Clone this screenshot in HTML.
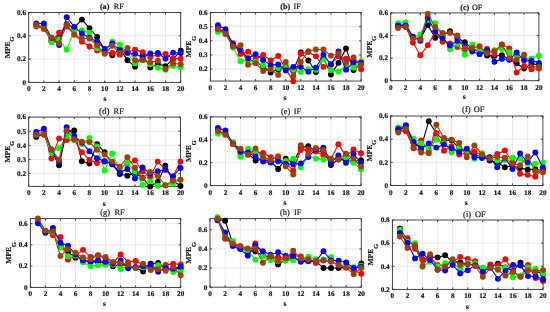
<!DOCTYPE html><html><head><meta charset="utf-8"><title>MPE</title><style>html,body{margin:0;padding:0;background:#fff}svg{display:block}text{text-rendering:geometricPrecision;stroke:#111;stroke-width:.18px;font-family:"Liberation Serif",serif;fill:#111}</style></head><body>
<svg width="550" height="312" viewBox="0 0 550 312">
<rect width="550" height="312" fill="#fff"/>
<g>
<path d="M43.9 12.5V82.4M59.1 12.5V82.4M74.3 12.5V82.4M89.5 12.5V82.4M104.7 12.5V82.4M119.9 12.5V82.4M135.1 12.5V82.4M150.3 12.5V82.4M165.5 12.5V82.4M28.7 59.1H180.7M28.7 35.8H180.7" stroke="#d8d8d8" stroke-width="0.55" fill="none"/>
<path d="M28.7 82.4v-2M28.7 12.5v2M43.9 82.4v-2M43.9 12.5v2M59.1 82.4v-2M59.1 12.5v2M74.3 82.4v-2M74.3 12.5v2M89.5 82.4v-2M89.5 12.5v2M104.7 82.4v-2M104.7 12.5v2M119.9 82.4v-2M119.9 12.5v2M135.1 82.4v-2M135.1 12.5v2M150.3 82.4v-2M150.3 12.5v2M165.5 82.4v-2M165.5 12.5v2M180.7 82.4v-2M180.7 12.5v2M28.7 82.4h2M180.7 82.4h-2M28.7 59.1h2M180.7 59.1h-2M28.7 35.8h2M180.7 35.8h-2M28.7 12.5h2M180.7 12.5h-2" stroke="#303030" stroke-width="0.9" fill="none"/>
<rect x="28.7" y="12.5" width="152" height="69.9" fill="none" stroke="#303030" stroke-width="0.9"/>
<polyline points="36.3,25.31 43.9,26.48 51.5,40.46 59.1,37.78 66.7,24.15 74.3,27.65 81.9,19.61 89.5,28.11 97.1,36.96 104.7,49.78 112.3,55.37 119.9,48.62 127.5,60.27 135.1,66.67 142.7,55.26 150.3,67.49 157.9,63.76 165.5,66.09 173.1,59.1 180.7,50.6" fill="none" stroke="#000000" stroke-width="1.1"/>
<g fill="#000000"><circle cx="36.3" cy="25.31" r="2.95"/><circle cx="43.9" cy="26.48" r="2.95"/><circle cx="51.5" cy="40.46" r="2.95"/><circle cx="59.1" cy="37.78" r="2.95"/><circle cx="66.7" cy="24.15" r="2.95"/><circle cx="74.3" cy="27.65" r="2.95"/><circle cx="81.9" cy="19.61" r="2.95"/><circle cx="89.5" cy="28.11" r="2.95"/><circle cx="97.1" cy="36.96" r="2.95"/><circle cx="104.7" cy="49.78" r="2.95"/><circle cx="112.3" cy="55.37" r="2.95"/><circle cx="119.9" cy="48.62" r="2.95"/><circle cx="127.5" cy="60.27" r="2.95"/><circle cx="135.1" cy="66.67" r="2.95"/><circle cx="142.7" cy="55.26" r="2.95"/><circle cx="150.3" cy="67.49" r="2.95"/><circle cx="157.9" cy="63.76" r="2.95"/><circle cx="165.5" cy="66.09" r="2.95"/><circle cx="173.1" cy="59.1" r="2.95"/><circle cx="180.7" cy="50.6" r="2.95"/></g>
<polyline points="36.3,26.48 43.9,28.81 51.5,41.63 59.1,32.6 66.7,26.48 74.3,34.64 81.9,41.63 89.5,46.52 97.1,50.6 104.7,52.11 112.3,53.04 119.9,54.67 127.5,52.11 135.1,49.78 142.7,52.11 150.3,57 157.9,54.44 165.5,53.86 173.1,58.63 180.7,58.63" fill="none" stroke="#ff0000" stroke-width="1.1"/>
<g fill="#ff0000"><circle cx="36.3" cy="26.48" r="2.95"/><circle cx="43.9" cy="28.81" r="2.95"/><circle cx="51.5" cy="41.63" r="2.95"/><circle cx="59.1" cy="32.6" r="2.95"/><circle cx="66.7" cy="26.48" r="2.95"/><circle cx="74.3" cy="34.64" r="2.95"/><circle cx="81.9" cy="41.63" r="2.95"/><circle cx="89.5" cy="46.52" r="2.95"/><circle cx="97.1" cy="50.6" r="2.95"/><circle cx="104.7" cy="52.11" r="2.95"/><circle cx="112.3" cy="53.04" r="2.95"/><circle cx="119.9" cy="54.67" r="2.95"/><circle cx="127.5" cy="52.11" r="2.95"/><circle cx="135.1" cy="49.78" r="2.95"/><circle cx="142.7" cy="52.11" r="2.95"/><circle cx="150.3" cy="57" r="2.95"/><circle cx="157.9" cy="54.44" r="2.95"/><circle cx="165.5" cy="53.86" r="2.95"/><circle cx="173.1" cy="58.63" r="2.95"/><circle cx="180.7" cy="58.63" r="2.95"/></g>
<polyline points="36.3,25.31 43.9,25.9 51.5,42.21 59.1,39.3 66.7,49.78 74.3,29.98 81.9,30.56 89.5,32.6 97.1,48.15 104.7,53.28 112.3,41.74 119.9,44.65 127.5,53.28 135.1,63.41 142.7,60.27 150.3,64.23 157.9,67.72 165.5,69.82 173.1,66.09 180.7,67.14" fill="none" stroke="#00ff00" stroke-width="1.1"/>
<g fill="#00ff00"><circle cx="36.3" cy="25.31" r="2.95"/><circle cx="43.9" cy="25.9" r="2.95"/><circle cx="51.5" cy="42.21" r="2.95"/><circle cx="59.1" cy="39.3" r="2.95"/><circle cx="66.7" cy="49.78" r="2.95"/><circle cx="74.3" cy="29.98" r="2.95"/><circle cx="81.9" cy="30.56" r="2.95"/><circle cx="89.5" cy="32.6" r="2.95"/><circle cx="97.1" cy="48.15" r="2.95"/><circle cx="104.7" cy="53.28" r="2.95"/><circle cx="112.3" cy="41.74" r="2.95"/><circle cx="119.9" cy="44.65" r="2.95"/><circle cx="127.5" cy="53.28" r="2.95"/><circle cx="135.1" cy="63.41" r="2.95"/><circle cx="142.7" cy="60.27" r="2.95"/><circle cx="150.3" cy="64.23" r="2.95"/><circle cx="157.9" cy="67.72" r="2.95"/><circle cx="165.5" cy="69.82" r="2.95"/><circle cx="173.1" cy="66.09" r="2.95"/><circle cx="180.7" cy="67.14" r="2.95"/></g>
<polyline points="36.3,23.57 43.9,23.57 51.5,37.78 59.1,45.12 66.7,17.16 74.3,26.83 81.9,33.47 89.5,37.78 97.1,41.63 104.7,48.96 112.3,43.37 119.9,50.95 127.5,52.69 135.1,53.86 142.7,57.7 150.3,53.51 157.9,53.04 165.5,58.63 173.1,52.69 180.7,53.04" fill="none" stroke="#0000ff" stroke-width="1.1"/>
<g fill="#0000ff"><circle cx="36.3" cy="23.57" r="2.95"/><circle cx="43.9" cy="23.57" r="2.95"/><circle cx="51.5" cy="37.78" r="2.95"/><circle cx="59.1" cy="45.12" r="2.95"/><circle cx="66.7" cy="17.16" r="2.95"/><circle cx="74.3" cy="26.83" r="2.95"/><circle cx="81.9" cy="33.47" r="2.95"/><circle cx="89.5" cy="37.78" r="2.95"/><circle cx="97.1" cy="41.63" r="2.95"/><circle cx="104.7" cy="48.96" r="2.95"/><circle cx="112.3" cy="43.37" r="2.95"/><circle cx="119.9" cy="50.95" r="2.95"/><circle cx="127.5" cy="52.69" r="2.95"/><circle cx="135.1" cy="53.86" r="2.95"/><circle cx="142.7" cy="57.7" r="2.95"/><circle cx="150.3" cy="53.51" r="2.95"/><circle cx="157.9" cy="53.04" r="2.95"/><circle cx="165.5" cy="58.63" r="2.95"/><circle cx="173.1" cy="52.69" r="2.95"/><circle cx="180.7" cy="53.04" r="2.95"/></g>
<polyline points="36.3,24.85 43.9,28.81 51.5,37.78 59.1,43.37 66.7,24.62 74.3,34.52 81.9,38.48 89.5,38.48 97.1,45.47 104.7,53.86 112.3,45.82 119.9,53.04 127.5,47.92 135.1,60.27 142.7,59.92 150.3,62.36 157.9,60.73 165.5,69 173.1,63.41 180.7,64.23" fill="none" stroke="#a23f06" stroke-width="1.1"/>
<g fill="#a23f06"><circle cx="36.3" cy="24.85" r="2.95"/><circle cx="43.9" cy="28.81" r="2.95"/><circle cx="51.5" cy="37.78" r="2.95"/><circle cx="59.1" cy="43.37" r="2.95"/><circle cx="66.7" cy="24.62" r="2.95"/><circle cx="74.3" cy="34.52" r="2.95"/><circle cx="81.9" cy="38.48" r="2.95"/><circle cx="89.5" cy="38.48" r="2.95"/><circle cx="97.1" cy="45.47" r="2.95"/><circle cx="104.7" cy="53.86" r="2.95"/><circle cx="112.3" cy="45.82" r="2.95"/><circle cx="119.9" cy="53.04" r="2.95"/><circle cx="127.5" cy="47.92" r="2.95"/><circle cx="135.1" cy="60.27" r="2.95"/><circle cx="142.7" cy="59.92" r="2.95"/><circle cx="150.3" cy="62.36" r="2.95"/><circle cx="157.9" cy="60.73" r="2.95"/><circle cx="165.5" cy="69" r="2.95"/><circle cx="173.1" cy="63.41" r="2.95"/><circle cx="180.7" cy="64.23" r="2.95"/></g>
<text x="28.7" y="91.4" font-size="7.2" font-weight="bold" text-anchor="middle">0</text>
<text x="43.9" y="91.4" font-size="7.2" font-weight="bold" text-anchor="middle">2</text>
<text x="59.1" y="91.4" font-size="7.2" font-weight="bold" text-anchor="middle">4</text>
<text x="74.3" y="91.4" font-size="7.2" font-weight="bold" text-anchor="middle">6</text>
<text x="89.5" y="91.4" font-size="7.2" font-weight="bold" text-anchor="middle">8</text>
<text x="104.7" y="91.4" font-size="7.2" font-weight="bold" text-anchor="middle">10</text>
<text x="119.9" y="91.4" font-size="7.2" font-weight="bold" text-anchor="middle">12</text>
<text x="135.1" y="91.4" font-size="7.2" font-weight="bold" text-anchor="middle">14</text>
<text x="150.3" y="91.4" font-size="7.2" font-weight="bold" text-anchor="middle">16</text>
<text x="165.5" y="91.4" font-size="7.2" font-weight="bold" text-anchor="middle">18</text>
<text x="180.7" y="91.4" font-size="7.2" font-weight="bold" text-anchor="middle">20</text>
<text x="26" y="84.7" font-size="7.2" font-weight="bold" text-anchor="end">0</text>
<text x="26" y="61.4" font-size="7.2" font-weight="bold" text-anchor="end">0.2</text>
<text x="26" y="38.1" font-size="7.2" font-weight="bold" text-anchor="end">0.4</text>
<text x="26" y="14.8" font-size="7.2" font-weight="bold" text-anchor="end">0.6</text>
<text x="104.9" y="101.1" font-size="7.6" font-weight="bold" text-anchor="middle">s</text>
<text transform="translate(9.7 58.3) rotate(-90)" font-size="7.6" font-weight="bold">MPE<tspan font-size="6.1" dx="0" dy="4.6">G</tspan></text>
<text x="99.9" y="9.3" font-size="8.1" font-weight="bold">(a)</text>
<text x="113.8" y="9.3" font-size="8.1">RF</text>
</g>
<g>
<path d="M225.47 12.5V81.05M240.54 12.5V81.05M255.61 12.5V81.05M270.68 12.5V81.05M285.75 12.5V81.05M300.82 12.5V81.05M315.89 12.5V81.05M330.96 12.5V81.05M346.03 12.5V81.05M210.4 69.1H361.1M210.4 54.95H361.1M210.4 40.8H361.1M210.4 26.65H361.1" stroke="#d8d8d8" stroke-width="0.55" fill="none"/>
<path d="M210.4 81.05v-2M210.4 12.5v2M225.47 81.05v-2M225.47 12.5v2M240.54 81.05v-2M240.54 12.5v2M255.61 81.05v-2M255.61 12.5v2M270.68 81.05v-2M270.68 12.5v2M285.75 81.05v-2M285.75 12.5v2M300.82 81.05v-2M300.82 12.5v2M315.89 81.05v-2M315.89 12.5v2M330.96 81.05v-2M330.96 12.5v2M346.03 81.05v-2M346.03 12.5v2M361.1 81.05v-2M361.1 12.5v2M210.4 69.1h2M361.1 69.1h-2M210.4 54.95h2M361.1 54.95h-2M210.4 40.8h2M361.1 40.8h-2M210.4 26.65h2M361.1 26.65h-2M210.4 12.5h2M361.1 12.5h-2" stroke="#303030" stroke-width="0.9" fill="none"/>
<rect x="210.4" y="12.5" width="150.7" height="68.55" fill="none" stroke="#303030" stroke-width="0.9"/>
<polyline points="217.94,29.48 225.47,32.31 233,45.05 240.54,50.7 248.08,59.19 255.61,62.02 263.14,66.27 270.68,72.5 278.22,69.24 285.75,67.69 293.29,70.52 300.82,52.4 308.36,60.47 315.89,71.93 323.43,57.78 330.96,74.48 338.5,62.87 346.03,48.44 353.57,70.09 361.1,63.44" fill="none" stroke="#000000" stroke-width="1.1"/>
<g fill="#000000"><circle cx="217.94" cy="29.48" r="2.95"/><circle cx="225.47" cy="32.31" r="2.95"/><circle cx="233" cy="45.05" r="2.95"/><circle cx="240.54" cy="50.7" r="2.95"/><circle cx="248.08" cy="59.19" r="2.95"/><circle cx="255.61" cy="62.02" r="2.95"/><circle cx="263.14" cy="66.27" r="2.95"/><circle cx="270.68" cy="72.5" r="2.95"/><circle cx="278.22" cy="69.24" r="2.95"/><circle cx="285.75" cy="67.69" r="2.95"/><circle cx="293.29" cy="70.52" r="2.95"/><circle cx="300.82" cy="52.4" r="2.95"/><circle cx="308.36" cy="60.47" r="2.95"/><circle cx="315.89" cy="71.93" r="2.95"/><circle cx="323.43" cy="57.78" r="2.95"/><circle cx="330.96" cy="74.48" r="2.95"/><circle cx="338.5" cy="62.87" r="2.95"/><circle cx="346.03" cy="48.44" r="2.95"/><circle cx="353.57" cy="70.09" r="2.95"/><circle cx="361.1" cy="63.44" r="2.95"/></g>
<polyline points="217.94,28.06 225.47,32.31 233,43.21 240.54,54.1 248.08,51.7 255.61,58.91 263.14,54.95 270.68,60.33 278.22,55.94 285.75,69.1 293.29,81.27 300.82,53.68 308.36,52.12 315.89,56.36 323.43,66.84 330.96,64.15 338.5,56.36 346.03,58.77 353.57,63.44 361.1,69.24" fill="none" stroke="#ff0000" stroke-width="1.1"/>
<g fill="#ff0000"><circle cx="217.94" cy="28.06" r="2.95"/><circle cx="225.47" cy="32.31" r="2.95"/><circle cx="233" cy="43.21" r="2.95"/><circle cx="240.54" cy="54.1" r="2.95"/><circle cx="248.08" cy="51.7" r="2.95"/><circle cx="255.61" cy="58.91" r="2.95"/><circle cx="263.14" cy="54.95" r="2.95"/><circle cx="270.68" cy="60.33" r="2.95"/><circle cx="278.22" cy="55.94" r="2.95"/><circle cx="285.75" cy="69.1" r="2.95"/><circle cx="293.29" cy="81.27" r="2.95"/><circle cx="300.82" cy="53.68" r="2.95"/><circle cx="308.36" cy="52.12" r="2.95"/><circle cx="315.89" cy="56.36" r="2.95"/><circle cx="323.43" cy="66.84" r="2.95"/><circle cx="330.96" cy="64.15" r="2.95"/><circle cx="338.5" cy="56.36" r="2.95"/><circle cx="346.03" cy="58.77" r="2.95"/><circle cx="353.57" cy="63.44" r="2.95"/><circle cx="361.1" cy="69.24" r="2.95"/></g>
<polyline points="217.94,31.89 225.47,32.31 233,47.59 240.54,61.32 248.08,60.61 255.61,62.02 263.14,65.28 270.68,67.69 278.22,68.11 285.75,65.14 293.29,69.81 300.82,71.93 308.36,69.24 315.89,69.81 323.43,59.62 330.96,70.09 338.5,71.65 346.03,65.56 353.57,67.69 361.1,61.18" fill="none" stroke="#00ff00" stroke-width="1.1"/>
<g fill="#00ff00"><circle cx="217.94" cy="31.89" r="2.95"/><circle cx="225.47" cy="32.31" r="2.95"/><circle cx="233" cy="47.59" r="2.95"/><circle cx="240.54" cy="61.32" r="2.95"/><circle cx="248.08" cy="60.61" r="2.95"/><circle cx="255.61" cy="62.02" r="2.95"/><circle cx="263.14" cy="65.28" r="2.95"/><circle cx="270.68" cy="67.69" r="2.95"/><circle cx="278.22" cy="68.11" r="2.95"/><circle cx="285.75" cy="65.14" r="2.95"/><circle cx="293.29" cy="69.81" r="2.95"/><circle cx="300.82" cy="71.93" r="2.95"/><circle cx="308.36" cy="69.24" r="2.95"/><circle cx="315.89" cy="69.81" r="2.95"/><circle cx="323.43" cy="59.62" r="2.95"/><circle cx="330.96" cy="70.09" r="2.95"/><circle cx="338.5" cy="71.65" r="2.95"/><circle cx="346.03" cy="65.56" r="2.95"/><circle cx="353.57" cy="67.69" r="2.95"/><circle cx="361.1" cy="61.18" r="2.95"/></g>
<polyline points="217.94,25.23 225.47,29.2 233,44.48 240.54,50 248.08,58.2 255.61,54.1 263.14,59.9 270.68,65.14 278.22,64.43 285.75,70.52 293.29,66.84 300.82,66.84 308.36,71.65 315.89,67.69 323.43,54.67 330.96,64.43 338.5,51.55 346.03,69.67 353.57,62.02 361.1,62.73" fill="none" stroke="#0000ff" stroke-width="1.1"/>
<g fill="#0000ff"><circle cx="217.94" cy="25.23" r="2.95"/><circle cx="225.47" cy="29.2" r="2.95"/><circle cx="233" cy="44.48" r="2.95"/><circle cx="240.54" cy="50" r="2.95"/><circle cx="248.08" cy="58.2" r="2.95"/><circle cx="255.61" cy="54.1" r="2.95"/><circle cx="263.14" cy="59.9" r="2.95"/><circle cx="270.68" cy="65.14" r="2.95"/><circle cx="278.22" cy="64.43" r="2.95"/><circle cx="285.75" cy="70.52" r="2.95"/><circle cx="293.29" cy="66.84" r="2.95"/><circle cx="300.82" cy="66.84" r="2.95"/><circle cx="308.36" cy="71.65" r="2.95"/><circle cx="315.89" cy="67.69" r="2.95"/><circle cx="323.43" cy="54.67" r="2.95"/><circle cx="330.96" cy="64.43" r="2.95"/><circle cx="338.5" cy="51.55" r="2.95"/><circle cx="346.03" cy="69.67" r="2.95"/><circle cx="353.57" cy="62.02" r="2.95"/><circle cx="361.1" cy="62.73" r="2.95"/></g>
<polyline points="217.94,29.2 225.47,34.01 233,46.46 240.54,45.19 248.08,64.71 255.61,63.16 263.14,71.08 270.68,69.52 278.22,74.9 285.75,62.02 293.29,76.17 300.82,61.74 308.36,51.13 315.89,49.57 323.43,49.57 330.96,55.66 338.5,53.53 346.03,62.87 353.57,57.5 361.1,64.85" fill="none" stroke="#a23f06" stroke-width="1.1"/>
<g fill="#a23f06"><circle cx="217.94" cy="29.2" r="2.95"/><circle cx="225.47" cy="34.01" r="2.95"/><circle cx="233" cy="46.46" r="2.95"/><circle cx="240.54" cy="45.19" r="2.95"/><circle cx="248.08" cy="64.71" r="2.95"/><circle cx="255.61" cy="63.16" r="2.95"/><circle cx="263.14" cy="71.08" r="2.95"/><circle cx="270.68" cy="69.52" r="2.95"/><circle cx="278.22" cy="74.9" r="2.95"/><circle cx="285.75" cy="62.02" r="2.95"/><circle cx="293.29" cy="76.17" r="2.95"/><circle cx="300.82" cy="61.74" r="2.95"/><circle cx="308.36" cy="51.13" r="2.95"/><circle cx="315.89" cy="49.57" r="2.95"/><circle cx="323.43" cy="49.57" r="2.95"/><circle cx="330.96" cy="55.66" r="2.95"/><circle cx="338.5" cy="53.53" r="2.95"/><circle cx="346.03" cy="62.87" r="2.95"/><circle cx="353.57" cy="57.5" r="2.95"/><circle cx="361.1" cy="64.85" r="2.95"/></g>
<text x="210.4" y="90.05" font-size="7.2" font-weight="bold" text-anchor="middle">0</text>
<text x="225.47" y="90.05" font-size="7.2" font-weight="bold" text-anchor="middle">2</text>
<text x="240.54" y="90.05" font-size="7.2" font-weight="bold" text-anchor="middle">4</text>
<text x="255.61" y="90.05" font-size="7.2" font-weight="bold" text-anchor="middle">6</text>
<text x="270.68" y="90.05" font-size="7.2" font-weight="bold" text-anchor="middle">8</text>
<text x="285.75" y="90.05" font-size="7.2" font-weight="bold" text-anchor="middle">10</text>
<text x="300.82" y="90.05" font-size="7.2" font-weight="bold" text-anchor="middle">12</text>
<text x="315.89" y="90.05" font-size="7.2" font-weight="bold" text-anchor="middle">14</text>
<text x="330.96" y="90.05" font-size="7.2" font-weight="bold" text-anchor="middle">16</text>
<text x="346.03" y="90.05" font-size="7.2" font-weight="bold" text-anchor="middle">18</text>
<text x="361.1" y="90.05" font-size="7.2" font-weight="bold" text-anchor="middle">20</text>
<text x="207.7" y="71.4" font-size="7.2" font-weight="bold" text-anchor="end">0.2</text>
<text x="207.7" y="57.25" font-size="7.2" font-weight="bold" text-anchor="end">0.3</text>
<text x="207.7" y="43.1" font-size="7.2" font-weight="bold" text-anchor="end">0.4</text>
<text x="207.7" y="28.95" font-size="7.2" font-weight="bold" text-anchor="end">0.5</text>
<text x="207.7" y="14.8" font-size="7.2" font-weight="bold" text-anchor="end">0.6</text>
<text x="285.1" y="99.5" font-size="7.6" font-weight="bold" text-anchor="middle">s</text>
<text transform="translate(191.4 57.62) rotate(-90)" font-size="7.6" font-weight="bold">MPE<tspan font-size="6.1" dx="0" dy="4.6">G</tspan></text>
<text x="280.2" y="9.3" font-size="8.1" font-weight="bold">(b)</text>
<text x="293.6" y="9.3" font-size="8.1">IF</text>
</g>
<g>
<path d="M405.52 12.9V80.7M420.34 12.9V80.7M435.16 12.9V80.7M449.98 12.9V80.7M464.8 12.9V80.7M479.62 12.9V80.7M494.44 12.9V80.7M509.26 12.9V80.7M524.08 12.9V80.7M390.7 58.1H538.9M390.7 35.5H538.9" stroke="#d8d8d8" stroke-width="0.55" fill="none"/>
<path d="M390.7 80.7v-2M390.7 12.9v2M405.52 80.7v-2M405.52 12.9v2M420.34 80.7v-2M420.34 12.9v2M435.16 80.7v-2M435.16 12.9v2M449.98 80.7v-2M449.98 12.9v2M464.8 80.7v-2M464.8 12.9v2M479.62 80.7v-2M479.62 12.9v2M494.44 80.7v-2M494.44 12.9v2M509.26 80.7v-2M509.26 12.9v2M524.08 80.7v-2M524.08 12.9v2M538.9 80.7v-2M538.9 12.9v2M390.7 80.7h2M538.9 80.7h-2M390.7 58.1h2M538.9 58.1h-2M390.7 35.5h2M538.9 35.5h-2M390.7 12.9h2M538.9 12.9h-2" stroke="#303030" stroke-width="0.9" fill="none"/>
<rect x="390.7" y="12.9" width="148.2" height="67.8" fill="none" stroke="#303030" stroke-width="0.9"/>
<polyline points="398.11,25.33 405.52,25.33 412.93,37.76 420.34,38.89 427.75,24.88 435.16,37.76 442.57,35.5 449.98,31.21 457.39,37.76 464.8,42.17 472.21,49.06 479.62,51.32 487.03,55.61 494.44,55.84 501.85,55.28 509.26,59.23 516.67,63.3 524.08,68.5 531.49,63.75 538.9,64.88" fill="none" stroke="#000000" stroke-width="1.1"/>
<g fill="#000000"><circle cx="398.11" cy="25.33" r="2.95"/><circle cx="405.52" cy="25.33" r="2.95"/><circle cx="412.93" cy="37.76" r="2.95"/><circle cx="420.34" cy="38.89" r="2.95"/><circle cx="427.75" cy="24.88" r="2.95"/><circle cx="435.16" cy="37.76" r="2.95"/><circle cx="442.57" cy="35.5" r="2.95"/><circle cx="449.98" cy="31.21" r="2.95"/><circle cx="457.39" cy="37.76" r="2.95"/><circle cx="464.8" cy="42.17" r="2.95"/><circle cx="472.21" cy="49.06" r="2.95"/><circle cx="479.62" cy="51.32" r="2.95"/><circle cx="487.03" cy="55.61" r="2.95"/><circle cx="494.44" cy="55.84" r="2.95"/><circle cx="501.85" cy="55.28" r="2.95"/><circle cx="509.26" cy="59.23" r="2.95"/><circle cx="516.67" cy="63.3" r="2.95"/><circle cx="524.08" cy="68.5" r="2.95"/><circle cx="531.49" cy="63.75" r="2.95"/><circle cx="538.9" cy="64.88" r="2.95"/></g>
<polyline points="398.11,27.03 405.52,26.46 412.93,42.51 420.34,55.28 427.75,45.22 435.16,32.11 442.57,41.83 449.98,43.41 457.39,46.91 464.8,50.19 472.21,50.19 479.62,50.3 487.03,48.95 494.44,54.03 501.85,44.77 509.26,48.38 516.67,72.45 524.08,66.01 531.49,69.29 538.9,68.5" fill="none" stroke="#ff0000" stroke-width="1.1"/>
<g fill="#ff0000"><circle cx="398.11" cy="27.03" r="2.95"/><circle cx="405.52" cy="26.46" r="2.95"/><circle cx="412.93" cy="42.51" r="2.95"/><circle cx="420.34" cy="55.28" r="2.95"/><circle cx="427.75" cy="45.22" r="2.95"/><circle cx="435.16" cy="32.11" r="2.95"/><circle cx="442.57" cy="41.83" r="2.95"/><circle cx="449.98" cy="43.41" r="2.95"/><circle cx="457.39" cy="46.91" r="2.95"/><circle cx="464.8" cy="50.19" r="2.95"/><circle cx="472.21" cy="50.19" r="2.95"/><circle cx="479.62" cy="50.3" r="2.95"/><circle cx="487.03" cy="48.95" r="2.95"/><circle cx="494.44" cy="54.03" r="2.95"/><circle cx="501.85" cy="44.77" r="2.95"/><circle cx="509.26" cy="48.38" r="2.95"/><circle cx="516.67" cy="72.45" r="2.95"/><circle cx="524.08" cy="66.01" r="2.95"/><circle cx="531.49" cy="69.29" r="2.95"/><circle cx="538.9" cy="68.5" r="2.95"/></g>
<polyline points="398.11,23.18 405.52,22.39 412.93,37.76 420.34,34.37 427.75,19.68 435.16,23.18 442.57,36.63 449.98,49.29 457.39,43.75 464.8,54.82 472.21,44.54 479.62,50.19 487.03,52.45 494.44,50.19 501.85,48.95 509.26,52.11 516.67,56.41 524.08,58.1 531.49,58.55 538.9,55.61" fill="none" stroke="#00ff00" stroke-width="1.1"/>
<g fill="#00ff00"><circle cx="398.11" cy="23.18" r="2.95"/><circle cx="405.52" cy="22.39" r="2.95"/><circle cx="412.93" cy="37.76" r="2.95"/><circle cx="420.34" cy="34.37" r="2.95"/><circle cx="427.75" cy="19.68" r="2.95"/><circle cx="435.16" cy="23.18" r="2.95"/><circle cx="442.57" cy="36.63" r="2.95"/><circle cx="449.98" cy="49.29" r="2.95"/><circle cx="457.39" cy="43.75" r="2.95"/><circle cx="464.8" cy="54.82" r="2.95"/><circle cx="472.21" cy="44.54" r="2.95"/><circle cx="479.62" cy="50.19" r="2.95"/><circle cx="487.03" cy="52.45" r="2.95"/><circle cx="494.44" cy="50.19" r="2.95"/><circle cx="501.85" cy="48.95" r="2.95"/><circle cx="509.26" cy="52.11" r="2.95"/><circle cx="516.67" cy="56.41" r="2.95"/><circle cx="524.08" cy="58.1" r="2.95"/><circle cx="531.49" cy="58.55" r="2.95"/><circle cx="538.9" cy="55.61" r="2.95"/></g>
<polyline points="398.11,25.33 405.52,25.33 412.93,36.63 420.34,40.81 427.75,17.65 435.16,31.43 442.57,38.33 449.98,45.39 457.39,40.81 464.8,45.67 472.21,51.55 479.62,54.15 487.03,50.19 494.44,61.72 501.85,58.89 509.26,59.68 516.67,52.45 524.08,60.13 531.49,60.81 538.9,62.85" fill="none" stroke="#0000ff" stroke-width="1.1"/>
<g fill="#0000ff"><circle cx="398.11" cy="25.33" r="2.95"/><circle cx="405.52" cy="25.33" r="2.95"/><circle cx="412.93" cy="36.63" r="2.95"/><circle cx="420.34" cy="40.81" r="2.95"/><circle cx="427.75" cy="17.65" r="2.95"/><circle cx="435.16" cy="31.43" r="2.95"/><circle cx="442.57" cy="38.33" r="2.95"/><circle cx="449.98" cy="45.39" r="2.95"/><circle cx="457.39" cy="40.81" r="2.95"/><circle cx="464.8" cy="45.67" r="2.95"/><circle cx="472.21" cy="51.55" r="2.95"/><circle cx="479.62" cy="54.15" r="2.95"/><circle cx="487.03" cy="50.19" r="2.95"/><circle cx="494.44" cy="61.72" r="2.95"/><circle cx="501.85" cy="58.89" r="2.95"/><circle cx="509.26" cy="59.68" r="2.95"/><circle cx="516.67" cy="52.45" r="2.95"/><circle cx="524.08" cy="60.13" r="2.95"/><circle cx="531.49" cy="60.81" r="2.95"/><circle cx="538.9" cy="62.85" r="2.95"/></g>
<polyline points="398.11,28.04 405.52,26.91 412.93,38.44 420.34,39.23 427.75,13.58 435.16,26.91 442.57,33.01 449.98,32.9 457.39,35.5 464.8,48.16 472.21,47.93 479.62,46.24 487.03,53.24 494.44,51.21 501.85,44.43 509.26,58.1 516.67,59.68 524.08,54.82 531.49,67.14 538.9,66.91" fill="none" stroke="#a23f06" stroke-width="1.1"/>
<g fill="#a23f06"><circle cx="398.11" cy="28.04" r="2.95"/><circle cx="405.52" cy="26.91" r="2.95"/><circle cx="412.93" cy="38.44" r="2.95"/><circle cx="420.34" cy="39.23" r="2.95"/><circle cx="427.75" cy="13.58" r="2.95"/><circle cx="435.16" cy="26.91" r="2.95"/><circle cx="442.57" cy="33.01" r="2.95"/><circle cx="449.98" cy="32.9" r="2.95"/><circle cx="457.39" cy="35.5" r="2.95"/><circle cx="464.8" cy="48.16" r="2.95"/><circle cx="472.21" cy="47.93" r="2.95"/><circle cx="479.62" cy="46.24" r="2.95"/><circle cx="487.03" cy="53.24" r="2.95"/><circle cx="494.44" cy="51.21" r="2.95"/><circle cx="501.85" cy="44.43" r="2.95"/><circle cx="509.26" cy="58.1" r="2.95"/><circle cx="516.67" cy="59.68" r="2.95"/><circle cx="524.08" cy="54.82" r="2.95"/><circle cx="531.49" cy="67.14" r="2.95"/><circle cx="538.9" cy="66.91" r="2.95"/></g>
<text x="390.7" y="89.7" font-size="7.2" font-weight="bold" text-anchor="middle">0</text>
<text x="405.52" y="89.7" font-size="7.2" font-weight="bold" text-anchor="middle">2</text>
<text x="420.34" y="89.7" font-size="7.2" font-weight="bold" text-anchor="middle">4</text>
<text x="435.16" y="89.7" font-size="7.2" font-weight="bold" text-anchor="middle">6</text>
<text x="449.98" y="89.7" font-size="7.2" font-weight="bold" text-anchor="middle">8</text>
<text x="464.8" y="89.7" font-size="7.2" font-weight="bold" text-anchor="middle">10</text>
<text x="479.62" y="89.7" font-size="7.2" font-weight="bold" text-anchor="middle">12</text>
<text x="494.44" y="89.7" font-size="7.2" font-weight="bold" text-anchor="middle">14</text>
<text x="509.26" y="89.7" font-size="7.2" font-weight="bold" text-anchor="middle">16</text>
<text x="524.08" y="89.7" font-size="7.2" font-weight="bold" text-anchor="middle">18</text>
<text x="538.9" y="89.7" font-size="7.2" font-weight="bold" text-anchor="middle">20</text>
<text x="388" y="83" font-size="7.2" font-weight="bold" text-anchor="end">0</text>
<text x="388" y="60.4" font-size="7.2" font-weight="bold" text-anchor="end">0.2</text>
<text x="388" y="37.8" font-size="7.2" font-weight="bold" text-anchor="end">0.4</text>
<text x="388" y="15.2" font-size="7.2" font-weight="bold" text-anchor="end">0.6</text>
<text x="464.2" y="98.9" font-size="7.6" font-weight="bold" text-anchor="middle">s</text>
<text transform="translate(371.7 57.65) rotate(-90)" font-size="7.6" font-weight="bold">MPE<tspan font-size="6.1" dx="0" dy="4.6">G</tspan></text>
<text x="460.2" y="9.7" font-size="8.1" font-weight="bold">(c)</text>
<text x="472" y="9.7" font-size="8.1">OF</text>
</g>
<g>
<path d="M43.88 117.1V186.4M59.06 117.1V186.4M74.24 117.1V186.4M89.42 117.1V186.4M104.6 117.1V186.4M119.78 117.1V186.4M134.96 117.1V186.4M150.14 117.1V186.4M165.32 117.1V186.4M28.7 173.6H180.5M28.7 159.47H180.5M28.7 145.35H180.5M28.7 131.22H180.5" stroke="#d8d8d8" stroke-width="0.55" fill="none"/>
<path d="M28.7 186.4v-2M28.7 117.1v2M43.88 186.4v-2M43.88 117.1v2M59.06 186.4v-2M59.06 117.1v2M74.24 186.4v-2M74.24 117.1v2M89.42 186.4v-2M89.42 117.1v2M104.6 186.4v-2M104.6 117.1v2M119.78 186.4v-2M119.78 117.1v2M134.96 186.4v-2M134.96 117.1v2M150.14 186.4v-2M150.14 117.1v2M165.32 186.4v-2M165.32 117.1v2M180.5 186.4v-2M180.5 117.1v2M28.7 173.6h2M180.5 173.6h-2M28.7 159.47h2M180.5 159.47h-2M28.7 145.35h2M180.5 145.35h-2M28.7 131.22h2M180.5 131.22h-2M28.7 117.1h2M180.5 117.1h-2" stroke="#303030" stroke-width="0.9" fill="none"/>
<rect x="28.7" y="117.1" width="151.8" height="69.3" fill="none" stroke="#303030" stroke-width="0.9"/>
<polyline points="36.29,136.88 43.88,134.05 51.47,151 59.06,165.27 66.65,131.22 74.24,130.38 81.83,161.31 89.42,163.57 97.01,144.08 104.6,152.27 112.19,164.42 119.78,174.02 127.37,175.72 134.96,172.75 142.55,177.84 150.14,186.59 157.73,181.93 165.32,165.69 172.91,180.66 180.5,186.03" fill="none" stroke="#000000" stroke-width="1.1"/>
<g fill="#000000"><circle cx="36.29" cy="136.88" r="2.95"/><circle cx="43.88" cy="134.05" r="2.95"/><circle cx="51.47" cy="151" r="2.95"/><circle cx="59.06" cy="165.27" r="2.95"/><circle cx="66.65" cy="131.22" r="2.95"/><circle cx="74.24" cy="130.38" r="2.95"/><circle cx="81.83" cy="161.31" r="2.95"/><circle cx="89.42" cy="163.57" r="2.95"/><circle cx="97.01" cy="144.08" r="2.95"/><circle cx="104.6" cy="152.27" r="2.95"/><circle cx="112.19" cy="164.42" r="2.95"/><circle cx="119.78" cy="174.02" r="2.95"/><circle cx="127.37" cy="175.72" r="2.95"/><circle cx="134.96" cy="172.75" r="2.95"/><circle cx="142.55" cy="177.84" r="2.95"/><circle cx="150.14" cy="186.59" r="2.95"/><circle cx="157.73" cy="181.93" r="2.95"/><circle cx="165.32" cy="165.69" r="2.95"/><circle cx="172.91" cy="180.66" r="2.95"/><circle cx="180.5" cy="186.03" r="2.95"/></g>
<polyline points="36.29,134.05 43.88,131.93 51.47,158.49 59.06,138.43 66.65,139.98 74.24,139.7 81.83,152.13 89.42,160.04 97.01,163.01 104.6,160.89 112.19,162.3 119.78,167.95 127.37,163.71 134.96,160.46 142.55,171.48 150.14,176.99 157.73,161.59 165.32,169.64 172.91,176.43 180.5,161.59" fill="none" stroke="#ff0000" stroke-width="1.1"/>
<g fill="#ff0000"><circle cx="36.29" cy="134.05" r="2.95"/><circle cx="43.88" cy="131.93" r="2.95"/><circle cx="51.47" cy="158.49" r="2.95"/><circle cx="59.06" cy="138.43" r="2.95"/><circle cx="66.65" cy="139.98" r="2.95"/><circle cx="74.24" cy="139.7" r="2.95"/><circle cx="81.83" cy="152.13" r="2.95"/><circle cx="89.42" cy="160.04" r="2.95"/><circle cx="97.01" cy="163.01" r="2.95"/><circle cx="104.6" cy="160.89" r="2.95"/><circle cx="112.19" cy="162.3" r="2.95"/><circle cx="119.78" cy="167.95" r="2.95"/><circle cx="127.37" cy="163.71" r="2.95"/><circle cx="134.96" cy="160.46" r="2.95"/><circle cx="142.55" cy="171.48" r="2.95"/><circle cx="150.14" cy="176.99" r="2.95"/><circle cx="157.73" cy="161.59" r="2.95"/><circle cx="165.32" cy="169.64" r="2.95"/><circle cx="172.91" cy="176.43" r="2.95"/><circle cx="180.5" cy="161.59" r="2.95"/></g>
<polyline points="36.29,134.76 43.88,134.05 51.47,152.84 59.06,148.17 66.65,136.03 74.24,139.7 81.83,143.94 89.42,138 97.01,146.48 104.6,170.49 112.19,153.54 119.78,169.36 127.37,162.86 134.96,171.62 142.55,184.9 150.14,181.37 157.73,185.75 165.32,185.18 172.91,183.77 180.5,179.67" fill="none" stroke="#00ff00" stroke-width="1.1"/>
<g fill="#00ff00"><circle cx="36.29" cy="134.76" r="2.95"/><circle cx="43.88" cy="134.05" r="2.95"/><circle cx="51.47" cy="152.84" r="2.95"/><circle cx="59.06" cy="148.17" r="2.95"/><circle cx="66.65" cy="136.03" r="2.95"/><circle cx="74.24" cy="139.7" r="2.95"/><circle cx="81.83" cy="143.94" r="2.95"/><circle cx="89.42" cy="138" r="2.95"/><circle cx="97.01" cy="146.48" r="2.95"/><circle cx="104.6" cy="170.49" r="2.95"/><circle cx="112.19" cy="153.54" r="2.95"/><circle cx="119.78" cy="169.36" r="2.95"/><circle cx="127.37" cy="162.86" r="2.95"/><circle cx="134.96" cy="171.62" r="2.95"/><circle cx="142.55" cy="184.9" r="2.95"/><circle cx="150.14" cy="181.37" r="2.95"/><circle cx="157.73" cy="185.75" r="2.95"/><circle cx="165.32" cy="185.18" r="2.95"/><circle cx="172.91" cy="183.77" r="2.95"/><circle cx="180.5" cy="179.67" r="2.95"/></g>
<polyline points="36.29,132.07 43.88,128.82 51.47,149.59 59.06,162.02 66.65,127.27 74.24,136.03 81.83,142.53 89.42,151.28 97.01,158.2 104.6,161.45 112.19,163.71 119.78,172.47 127.37,168.94 134.96,178.54 142.55,167.38 150.14,173.6 157.73,171.2 165.32,169.64 172.91,176.43 180.5,167.95" fill="none" stroke="#0000ff" stroke-width="1.1"/>
<g fill="#0000ff"><circle cx="36.29" cy="132.07" r="2.95"/><circle cx="43.88" cy="128.82" r="2.95"/><circle cx="51.47" cy="149.59" r="2.95"/><circle cx="59.06" cy="162.02" r="2.95"/><circle cx="66.65" cy="127.27" r="2.95"/><circle cx="74.24" cy="136.03" r="2.95"/><circle cx="81.83" cy="142.53" r="2.95"/><circle cx="89.42" cy="151.28" r="2.95"/><circle cx="97.01" cy="158.2" r="2.95"/><circle cx="104.6" cy="161.45" r="2.95"/><circle cx="112.19" cy="163.71" r="2.95"/><circle cx="119.78" cy="172.47" r="2.95"/><circle cx="127.37" cy="168.94" r="2.95"/><circle cx="134.96" cy="178.54" r="2.95"/><circle cx="142.55" cy="167.38" r="2.95"/><circle cx="150.14" cy="173.6" r="2.95"/><circle cx="157.73" cy="171.2" r="2.95"/><circle cx="165.32" cy="169.64" r="2.95"/><circle cx="172.91" cy="176.43" r="2.95"/><circle cx="180.5" cy="167.95" r="2.95"/></g>
<polyline points="36.29,134.76 43.88,134.76 51.47,149.16 59.06,159.76 66.65,130.38 74.24,139.28 81.83,141.68 89.42,142.1 97.01,149.73 104.6,154.53 112.19,161.59 119.78,166.82 127.37,157.22 134.96,167.67 142.55,178.12 150.14,171.91 157.73,176 165.32,185.32 172.91,180.8 180.5,179.67" fill="none" stroke="#a23f06" stroke-width="1.1"/>
<g fill="#a23f06"><circle cx="36.29" cy="134.76" r="2.95"/><circle cx="43.88" cy="134.76" r="2.95"/><circle cx="51.47" cy="149.16" r="2.95"/><circle cx="59.06" cy="159.76" r="2.95"/><circle cx="66.65" cy="130.38" r="2.95"/><circle cx="74.24" cy="139.28" r="2.95"/><circle cx="81.83" cy="141.68" r="2.95"/><circle cx="89.42" cy="142.1" r="2.95"/><circle cx="97.01" cy="149.73" r="2.95"/><circle cx="104.6" cy="154.53" r="2.95"/><circle cx="112.19" cy="161.59" r="2.95"/><circle cx="119.78" cy="166.82" r="2.95"/><circle cx="127.37" cy="157.22" r="2.95"/><circle cx="134.96" cy="167.67" r="2.95"/><circle cx="142.55" cy="178.12" r="2.95"/><circle cx="150.14" cy="171.91" r="2.95"/><circle cx="157.73" cy="176" r="2.95"/><circle cx="165.32" cy="185.32" r="2.95"/><circle cx="172.91" cy="180.8" r="2.95"/><circle cx="180.5" cy="179.67" r="2.95"/></g>
<text x="28.7" y="195.4" font-size="7.2" font-weight="bold" text-anchor="middle">0</text>
<text x="43.88" y="195.4" font-size="7.2" font-weight="bold" text-anchor="middle">2</text>
<text x="59.06" y="195.4" font-size="7.2" font-weight="bold" text-anchor="middle">4</text>
<text x="74.24" y="195.4" font-size="7.2" font-weight="bold" text-anchor="middle">6</text>
<text x="89.42" y="195.4" font-size="7.2" font-weight="bold" text-anchor="middle">8</text>
<text x="104.6" y="195.4" font-size="7.2" font-weight="bold" text-anchor="middle">10</text>
<text x="119.78" y="195.4" font-size="7.2" font-weight="bold" text-anchor="middle">12</text>
<text x="134.96" y="195.4" font-size="7.2" font-weight="bold" text-anchor="middle">14</text>
<text x="150.14" y="195.4" font-size="7.2" font-weight="bold" text-anchor="middle">16</text>
<text x="165.32" y="195.4" font-size="7.2" font-weight="bold" text-anchor="middle">18</text>
<text x="180.5" y="195.4" font-size="7.2" font-weight="bold" text-anchor="middle">20</text>
<text x="26" y="175.9" font-size="7.2" font-weight="bold" text-anchor="end">0.2</text>
<text x="26" y="161.78" font-size="7.2" font-weight="bold" text-anchor="end">0.3</text>
<text x="26" y="147.65" font-size="7.2" font-weight="bold" text-anchor="end">0.4</text>
<text x="26" y="133.53" font-size="7.2" font-weight="bold" text-anchor="end">0.5</text>
<text x="26" y="119.4" font-size="7.2" font-weight="bold" text-anchor="end">0.6</text>
<text x="104.2" y="205.7" font-size="7.6" font-weight="bold" text-anchor="middle">s</text>
<text transform="translate(9.7 162.6) rotate(-90)" font-size="7.6" font-weight="bold">MPE<tspan font-size="6.1" dx="0" dy="4.6">G</tspan></text>
<text x="99.1" y="113.5" font-size="8.9">(d)</text>
<text x="113.6" y="113.5" font-size="8.4">RF</text>
</g>
<g>
<path d="M225.46 116.9V185.6M240.52 116.9V185.6M255.58 116.9V185.6M270.64 116.9V185.6M285.7 116.9V185.6M300.76 116.9V185.6M315.82 116.9V185.6M330.88 116.9V185.6M345.94 116.9V185.6M210.4 162.7H361M210.4 139.8H361" stroke="#d8d8d8" stroke-width="0.55" fill="none"/>
<path d="M210.4 185.6v-2M210.4 116.9v2M225.46 185.6v-2M225.46 116.9v2M240.52 185.6v-2M240.52 116.9v2M255.58 185.6v-2M255.58 116.9v2M270.64 185.6v-2M270.64 116.9v2M285.7 185.6v-2M285.7 116.9v2M300.76 185.6v-2M300.76 116.9v2M315.82 185.6v-2M315.82 116.9v2M330.88 185.6v-2M330.88 116.9v2M345.94 185.6v-2M345.94 116.9v2M361 185.6v-2M361 116.9v2M210.4 185.6h2M361 185.6h-2M210.4 162.7h2M361 162.7h-2M210.4 139.8h2M361 139.8h-2M210.4 116.9h2M361 116.9h-2" stroke="#303030" stroke-width="0.9" fill="none"/>
<rect x="210.4" y="116.9" width="150.6" height="68.7" fill="none" stroke="#303030" stroke-width="0.9"/>
<polyline points="217.93,131.78 225.46,134.07 232.99,143.81 240.52,151.25 248.05,153.54 255.58,160.52 263.11,159.26 270.64,161.56 278.17,169 285.7,158.81 293.23,162.7 300.76,147.81 308.29,146.1 315.82,151.25 323.35,151.25 330.88,164.99 338.41,159.26 345.94,160.41 353.47,161.56 361,160.18" fill="none" stroke="#000000" stroke-width="1.1"/>
<g fill="#000000"><circle cx="217.93" cy="131.78" r="2.95"/><circle cx="225.46" cy="134.07" r="2.95"/><circle cx="232.99" cy="143.81" r="2.95"/><circle cx="240.52" cy="151.25" r="2.95"/><circle cx="248.05" cy="153.54" r="2.95"/><circle cx="255.58" cy="160.52" r="2.95"/><circle cx="263.11" cy="159.26" r="2.95"/><circle cx="270.64" cy="161.56" r="2.95"/><circle cx="278.17" cy="169" r="2.95"/><circle cx="285.7" cy="158.81" r="2.95"/><circle cx="293.23" cy="162.7" r="2.95"/><circle cx="300.76" cy="147.81" r="2.95"/><circle cx="308.29" cy="146.1" r="2.95"/><circle cx="315.82" cy="151.25" r="2.95"/><circle cx="323.35" cy="151.25" r="2.95"/><circle cx="330.88" cy="164.99" r="2.95"/><circle cx="338.41" cy="159.26" r="2.95"/><circle cx="345.94" cy="160.41" r="2.95"/><circle cx="353.47" cy="161.56" r="2.95"/><circle cx="361" cy="160.18" r="2.95"/></g>
<polyline points="217.93,130.64 225.46,133.5 232.99,143.81 240.52,153.54 248.05,153.54 255.58,152.4 263.11,152.97 270.64,157.32 278.17,159.26 285.7,162.7 293.23,170.72 300.76,150.1 308.29,149.19 315.82,151.25 323.35,155.6 330.88,159.26 338.41,144.15 345.94,155.83 353.47,149.53 361,153.2" fill="none" stroke="#ff0000" stroke-width="1.1"/>
<g fill="#ff0000"><circle cx="217.93" cy="130.64" r="2.95"/><circle cx="225.46" cy="133.5" r="2.95"/><circle cx="232.99" cy="143.81" r="2.95"/><circle cx="240.52" cy="153.54" r="2.95"/><circle cx="248.05" cy="153.54" r="2.95"/><circle cx="255.58" cy="152.4" r="2.95"/><circle cx="263.11" cy="152.97" r="2.95"/><circle cx="270.64" cy="157.32" r="2.95"/><circle cx="278.17" cy="159.26" r="2.95"/><circle cx="285.7" cy="162.7" r="2.95"/><circle cx="293.23" cy="170.72" r="2.95"/><circle cx="300.76" cy="150.1" r="2.95"/><circle cx="308.29" cy="149.19" r="2.95"/><circle cx="315.82" cy="151.25" r="2.95"/><circle cx="323.35" cy="155.6" r="2.95"/><circle cx="330.88" cy="159.26" r="2.95"/><circle cx="338.41" cy="144.15" r="2.95"/><circle cx="345.94" cy="155.83" r="2.95"/><circle cx="353.47" cy="149.53" r="2.95"/><circle cx="361" cy="153.2" r="2.95"/></g>
<polyline points="217.93,133.73 225.46,134.07 232.99,142.09 240.52,156.75 248.05,148.73 255.58,151.25 263.11,158.12 270.64,160.41 278.17,161.56 285.7,160.98 293.23,158.81 300.76,167.28 308.29,155.83 315.82,158.81 323.35,159.61 330.88,160.41 338.41,158.69 345.94,158.12 353.47,162.81 361,169.23" fill="none" stroke="#00ff00" stroke-width="1.1"/>
<g fill="#00ff00"><circle cx="217.93" cy="133.73" r="2.95"/><circle cx="225.46" cy="134.07" r="2.95"/><circle cx="232.99" cy="142.09" r="2.95"/><circle cx="240.52" cy="156.75" r="2.95"/><circle cx="248.05" cy="148.73" r="2.95"/><circle cx="255.58" cy="151.25" r="2.95"/><circle cx="263.11" cy="158.12" r="2.95"/><circle cx="270.64" cy="160.41" r="2.95"/><circle cx="278.17" cy="161.56" r="2.95"/><circle cx="285.7" cy="160.98" r="2.95"/><circle cx="293.23" cy="158.81" r="2.95"/><circle cx="300.76" cy="167.28" r="2.95"/><circle cx="308.29" cy="155.83" r="2.95"/><circle cx="315.82" cy="158.81" r="2.95"/><circle cx="323.35" cy="159.61" r="2.95"/><circle cx="330.88" cy="160.41" r="2.95"/><circle cx="338.41" cy="158.69" r="2.95"/><circle cx="345.94" cy="158.12" r="2.95"/><circle cx="353.47" cy="162.81" r="2.95"/><circle cx="361" cy="169.23" r="2.95"/></g>
<polyline points="217.93,127.89 225.46,130.53 232.99,143.81 240.52,151.71 248.05,152.51 255.58,156.52 263.11,161.56 270.64,162.59 278.17,160.98 285.7,163.84 293.23,164.42 300.76,163.39 308.29,156.97 315.82,148.96 323.35,147.59 330.88,162.01 338.41,155.37 345.94,162.81 353.47,154 361,162.81" fill="none" stroke="#0000ff" stroke-width="1.1"/>
<g fill="#0000ff"><circle cx="217.93" cy="127.89" r="2.95"/><circle cx="225.46" cy="130.53" r="2.95"/><circle cx="232.99" cy="143.81" r="2.95"/><circle cx="240.52" cy="151.71" r="2.95"/><circle cx="248.05" cy="152.51" r="2.95"/><circle cx="255.58" cy="156.52" r="2.95"/><circle cx="263.11" cy="161.56" r="2.95"/><circle cx="270.64" cy="162.59" r="2.95"/><circle cx="278.17" cy="160.98" r="2.95"/><circle cx="285.7" cy="163.84" r="2.95"/><circle cx="293.23" cy="164.42" r="2.95"/><circle cx="300.76" cy="163.39" r="2.95"/><circle cx="308.29" cy="156.97" r="2.95"/><circle cx="315.82" cy="148.96" r="2.95"/><circle cx="323.35" cy="147.59" r="2.95"/><circle cx="330.88" cy="162.01" r="2.95"/><circle cx="338.41" cy="155.37" r="2.95"/><circle cx="345.94" cy="162.81" r="2.95"/><circle cx="353.47" cy="154" r="2.95"/><circle cx="361" cy="162.81" r="2.95"/></g>
<polyline points="217.93,131.1 225.46,134.88 232.99,143.92 240.52,148.73 248.05,154.91 255.58,148.5 263.11,157.32 270.64,159.95 278.17,156.17 285.7,166.36 293.23,174.61 300.76,145.18 308.29,154 315.82,147.93 323.35,150.1 330.88,158.81 338.41,159.61 345.94,153.77 353.47,158.58 361,166.59" fill="none" stroke="#a23f06" stroke-width="1.1"/>
<g fill="#a23f06"><circle cx="217.93" cy="131.1" r="2.95"/><circle cx="225.46" cy="134.88" r="2.95"/><circle cx="232.99" cy="143.92" r="2.95"/><circle cx="240.52" cy="148.73" r="2.95"/><circle cx="248.05" cy="154.91" r="2.95"/><circle cx="255.58" cy="148.5" r="2.95"/><circle cx="263.11" cy="157.32" r="2.95"/><circle cx="270.64" cy="159.95" r="2.95"/><circle cx="278.17" cy="156.17" r="2.95"/><circle cx="285.7" cy="166.36" r="2.95"/><circle cx="293.23" cy="174.61" r="2.95"/><circle cx="300.76" cy="145.18" r="2.95"/><circle cx="308.29" cy="154" r="2.95"/><circle cx="315.82" cy="147.93" r="2.95"/><circle cx="323.35" cy="150.1" r="2.95"/><circle cx="330.88" cy="158.81" r="2.95"/><circle cx="338.41" cy="159.61" r="2.95"/><circle cx="345.94" cy="153.77" r="2.95"/><circle cx="353.47" cy="158.58" r="2.95"/><circle cx="361" cy="166.59" r="2.95"/></g>
<text x="210.4" y="194.6" font-size="7.2" font-weight="bold" text-anchor="middle">0</text>
<text x="225.46" y="194.6" font-size="7.2" font-weight="bold" text-anchor="middle">2</text>
<text x="240.52" y="194.6" font-size="7.2" font-weight="bold" text-anchor="middle">4</text>
<text x="255.58" y="194.6" font-size="7.2" font-weight="bold" text-anchor="middle">6</text>
<text x="270.64" y="194.6" font-size="7.2" font-weight="bold" text-anchor="middle">8</text>
<text x="285.7" y="194.6" font-size="7.2" font-weight="bold" text-anchor="middle">10</text>
<text x="300.76" y="194.6" font-size="7.2" font-weight="bold" text-anchor="middle">12</text>
<text x="315.82" y="194.6" font-size="7.2" font-weight="bold" text-anchor="middle">14</text>
<text x="330.88" y="194.6" font-size="7.2" font-weight="bold" text-anchor="middle">16</text>
<text x="345.94" y="194.6" font-size="7.2" font-weight="bold" text-anchor="middle">18</text>
<text x="361" y="194.6" font-size="7.2" font-weight="bold" text-anchor="middle">20</text>
<text x="207.7" y="187.9" font-size="7.2" font-weight="bold" text-anchor="end">0</text>
<text x="207.7" y="165" font-size="7.2" font-weight="bold" text-anchor="end">0.2</text>
<text x="207.7" y="142.1" font-size="7.2" font-weight="bold" text-anchor="end">0.4</text>
<text x="207.7" y="119.2" font-size="7.2" font-weight="bold" text-anchor="end">0.6</text>
<text x="285.1" y="204.6" font-size="7.6" font-weight="bold" text-anchor="middle">s</text>
<text transform="translate(191.4 162.1) rotate(-90)" font-size="7.6" font-weight="bold">MPE<tspan font-size="6.1" dx="0" dy="4.6">G</tspan></text>
<text x="280.9" y="113.7" font-size="8.4">(e)</text>
<text x="293.8" y="113.7" font-size="8.4">IF</text>
</g>
<g>
<path d="M405.92 116V185.5M421.14 116V185.5M436.36 116V185.5M451.58 116V185.5M466.8 116V185.5M482.02 116V185.5M497.24 116V185.5M512.46 116V185.5M527.68 116V185.5M390.7 162.33H542.9M390.7 139.17H542.9" stroke="#d8d8d8" stroke-width="0.55" fill="none"/>
<path d="M390.7 185.5v-2M390.7 116v2M405.92 185.5v-2M405.92 116v2M421.14 185.5v-2M421.14 116v2M436.36 185.5v-2M436.36 116v2M451.58 185.5v-2M451.58 116v2M466.8 185.5v-2M466.8 116v2M482.02 185.5v-2M482.02 116v2M497.24 185.5v-2M497.24 116v2M512.46 185.5v-2M512.46 116v2M527.68 185.5v-2M527.68 116v2M542.9 185.5v-2M542.9 116v2M390.7 185.5h2M542.9 185.5h-2M390.7 162.33h2M542.9 162.33h-2M390.7 139.17h2M542.9 139.17h-2M390.7 116h2M542.9 116h-2" stroke="#303030" stroke-width="0.9" fill="none"/>
<rect x="390.7" y="116" width="152.2" height="69.5" fill="none" stroke="#303030" stroke-width="0.9"/>
<polyline points="398.31,129.9 405.92,127.58 413.53,142.64 421.14,147.27 428.75,121.21 436.36,133.38 443.97,140.32 451.58,140.32 459.19,148.2 466.8,150.75 474.41,155.38 482.02,156.54 489.63,160.48 497.24,162.33 504.85,167.31 512.46,165.81 520.07,168.12 527.68,169.63 535.29,169.28 542.9,170.44" fill="none" stroke="#000000" stroke-width="1.1"/>
<g fill="#000000"><circle cx="398.31" cy="129.9" r="2.95"/><circle cx="405.92" cy="127.58" r="2.95"/><circle cx="413.53" cy="142.64" r="2.95"/><circle cx="421.14" cy="147.27" r="2.95"/><circle cx="428.75" cy="121.21" r="2.95"/><circle cx="436.36" cy="133.38" r="2.95"/><circle cx="443.97" cy="140.32" r="2.95"/><circle cx="451.58" cy="140.32" r="2.95"/><circle cx="459.19" cy="148.2" r="2.95"/><circle cx="466.8" cy="150.75" r="2.95"/><circle cx="474.41" cy="155.38" r="2.95"/><circle cx="482.02" cy="156.54" r="2.95"/><circle cx="489.63" cy="160.48" r="2.95"/><circle cx="497.24" cy="162.33" r="2.95"/><circle cx="504.85" cy="167.31" r="2.95"/><circle cx="512.46" cy="165.81" r="2.95"/><circle cx="520.07" cy="168.12" r="2.95"/><circle cx="527.68" cy="169.63" r="2.95"/><circle cx="535.29" cy="169.28" r="2.95"/><circle cx="542.9" cy="170.44" r="2.95"/></g>
<polyline points="398.31,131.06 405.92,131.17 413.53,148.2 421.14,140.44 428.75,150.75 436.36,133.26 443.97,150.75 451.58,146.12 459.19,154.57 466.8,153.07 474.41,151.68 482.02,155.38 489.63,157.7 497.24,153.99 504.85,150.4 512.46,162.33 520.07,173.8 527.68,174.84 535.29,176.81 542.9,168.12" fill="none" stroke="#ff0000" stroke-width="1.1"/>
<g fill="#ff0000"><circle cx="398.31" cy="131.06" r="2.95"/><circle cx="405.92" cy="131.17" r="2.95"/><circle cx="413.53" cy="148.2" r="2.95"/><circle cx="421.14" cy="140.44" r="2.95"/><circle cx="428.75" cy="150.75" r="2.95"/><circle cx="436.36" cy="133.26" r="2.95"/><circle cx="443.97" cy="150.75" r="2.95"/><circle cx="451.58" cy="146.12" r="2.95"/><circle cx="459.19" cy="154.57" r="2.95"/><circle cx="466.8" cy="153.07" r="2.95"/><circle cx="474.41" cy="151.68" r="2.95"/><circle cx="482.02" cy="155.38" r="2.95"/><circle cx="489.63" cy="157.7" r="2.95"/><circle cx="497.24" cy="153.99" r="2.95"/><circle cx="504.85" cy="150.4" r="2.95"/><circle cx="512.46" cy="162.33" r="2.95"/><circle cx="520.07" cy="173.8" r="2.95"/><circle cx="527.68" cy="174.84" r="2.95"/><circle cx="535.29" cy="176.81" r="2.95"/><circle cx="542.9" cy="168.12" r="2.95"/></g>
<polyline points="398.31,127.35 405.92,127.58 413.53,138.59 421.14,143.34 428.75,148.43 436.36,139.63 443.97,142.64 451.58,152.49 459.19,147.27 466.8,150.75 474.41,158.86 482.02,153.18 489.63,157.7 497.24,160.48 504.85,160.02 512.46,157.7 520.07,158.86 527.68,164.07 535.29,163.61 542.9,162.8" fill="none" stroke="#00ff00" stroke-width="1.1"/>
<g fill="#00ff00"><circle cx="398.31" cy="127.35" r="2.95"/><circle cx="405.92" cy="127.58" r="2.95"/><circle cx="413.53" cy="138.59" r="2.95"/><circle cx="421.14" cy="143.34" r="2.95"/><circle cx="428.75" cy="148.43" r="2.95"/><circle cx="436.36" cy="139.63" r="2.95"/><circle cx="443.97" cy="142.64" r="2.95"/><circle cx="451.58" cy="152.49" r="2.95"/><circle cx="459.19" cy="147.27" r="2.95"/><circle cx="466.8" cy="150.75" r="2.95"/><circle cx="474.41" cy="158.86" r="2.95"/><circle cx="482.02" cy="153.18" r="2.95"/><circle cx="489.63" cy="157.7" r="2.95"/><circle cx="497.24" cy="160.48" r="2.95"/><circle cx="504.85" cy="160.02" r="2.95"/><circle cx="512.46" cy="157.7" r="2.95"/><circle cx="520.07" cy="158.86" r="2.95"/><circle cx="527.68" cy="164.07" r="2.95"/><circle cx="535.29" cy="163.61" r="2.95"/><circle cx="542.9" cy="162.8" r="2.95"/></g>
<polyline points="398.31,128.86 405.92,125.27 413.53,142.06 421.14,149.24 428.75,143.34 436.36,147.62 443.97,144.5 451.58,148.2 459.19,152.02 466.8,148.66 474.41,157.24 482.02,158.05 489.63,157.24 497.24,167.31 504.85,158.05 512.46,168.94 520.07,153.53 527.68,162.1 535.29,152.49 542.9,167.55" fill="none" stroke="#0000ff" stroke-width="1.1"/>
<g fill="#0000ff"><circle cx="398.31" cy="128.86" r="2.95"/><circle cx="405.92" cy="125.27" r="2.95"/><circle cx="413.53" cy="142.06" r="2.95"/><circle cx="421.14" cy="149.24" r="2.95"/><circle cx="428.75" cy="143.34" r="2.95"/><circle cx="436.36" cy="147.62" r="2.95"/><circle cx="443.97" cy="144.5" r="2.95"/><circle cx="451.58" cy="148.2" r="2.95"/><circle cx="459.19" cy="152.02" r="2.95"/><circle cx="466.8" cy="148.66" r="2.95"/><circle cx="474.41" cy="157.24" r="2.95"/><circle cx="482.02" cy="158.05" r="2.95"/><circle cx="489.63" cy="157.24" r="2.95"/><circle cx="497.24" cy="167.31" r="2.95"/><circle cx="504.85" cy="158.05" r="2.95"/><circle cx="512.46" cy="168.94" r="2.95"/><circle cx="520.07" cy="153.53" r="2.95"/><circle cx="527.68" cy="162.1" r="2.95"/><circle cx="535.29" cy="152.49" r="2.95"/><circle cx="542.9" cy="167.55" r="2.95"/></g>
<polyline points="398.31,132.45 405.92,128.86 413.53,146.58 421.14,152.49 428.75,153.3 436.36,124.8 443.97,138.01 451.58,139.63 459.19,142.87 466.8,157.24 474.41,145.54 482.02,154.46 489.63,158.39 497.24,156.77 504.85,158.05 512.46,163.61 520.07,165.23 527.68,156.43 535.29,171.14 542.9,172.18" fill="none" stroke="#a23f06" stroke-width="1.1"/>
<g fill="#a23f06"><circle cx="398.31" cy="132.45" r="2.95"/><circle cx="405.92" cy="128.86" r="2.95"/><circle cx="413.53" cy="146.58" r="2.95"/><circle cx="421.14" cy="152.49" r="2.95"/><circle cx="428.75" cy="153.3" r="2.95"/><circle cx="436.36" cy="124.8" r="2.95"/><circle cx="443.97" cy="138.01" r="2.95"/><circle cx="451.58" cy="139.63" r="2.95"/><circle cx="459.19" cy="142.87" r="2.95"/><circle cx="466.8" cy="157.24" r="2.95"/><circle cx="474.41" cy="145.54" r="2.95"/><circle cx="482.02" cy="154.46" r="2.95"/><circle cx="489.63" cy="158.39" r="2.95"/><circle cx="497.24" cy="156.77" r="2.95"/><circle cx="504.85" cy="158.05" r="2.95"/><circle cx="512.46" cy="163.61" r="2.95"/><circle cx="520.07" cy="165.23" r="2.95"/><circle cx="527.68" cy="156.43" r="2.95"/><circle cx="535.29" cy="171.14" r="2.95"/><circle cx="542.9" cy="172.18" r="2.95"/></g>
<text x="390.7" y="194.5" font-size="7.2" font-weight="bold" text-anchor="middle">0</text>
<text x="405.92" y="194.5" font-size="7.2" font-weight="bold" text-anchor="middle">2</text>
<text x="421.14" y="194.5" font-size="7.2" font-weight="bold" text-anchor="middle">4</text>
<text x="436.36" y="194.5" font-size="7.2" font-weight="bold" text-anchor="middle">6</text>
<text x="451.58" y="194.5" font-size="7.2" font-weight="bold" text-anchor="middle">8</text>
<text x="466.8" y="194.5" font-size="7.2" font-weight="bold" text-anchor="middle">10</text>
<text x="482.02" y="194.5" font-size="7.2" font-weight="bold" text-anchor="middle">12</text>
<text x="497.24" y="194.5" font-size="7.2" font-weight="bold" text-anchor="middle">14</text>
<text x="512.46" y="194.5" font-size="7.2" font-weight="bold" text-anchor="middle">16</text>
<text x="527.68" y="194.5" font-size="7.2" font-weight="bold" text-anchor="middle">18</text>
<text x="542.9" y="194.5" font-size="7.2" font-weight="bold" text-anchor="middle">20</text>
<text x="388" y="187.8" font-size="7.2" font-weight="bold" text-anchor="end">0</text>
<text x="388" y="164.63" font-size="7.2" font-weight="bold" text-anchor="end">0.2</text>
<text x="388" y="141.47" font-size="7.2" font-weight="bold" text-anchor="end">0.4</text>
<text x="388" y="118.3" font-size="7.2" font-weight="bold" text-anchor="end">0.6</text>
<text x="466.2" y="204.7" font-size="7.6" font-weight="bold" text-anchor="middle">s</text>
<text transform="translate(371.7 161.6) rotate(-90)" font-size="7.6" font-weight="bold">MPE<tspan font-size="6.1" dx="0" dy="4.6">G</tspan></text>
<text x="462.1" y="112.4" font-size="8.4">(f)</text>
<text x="473.8" y="112.4" font-size="8.4">OF</text>
</g>
<g>
<path d="M45.43 218.6V287.4M60.46 218.6V287.4M75.49 218.6V287.4M90.52 218.6V287.4M105.55 218.6V287.4M120.58 218.6V287.4M135.61 218.6V287.4M150.64 218.6V287.4M165.67 218.6V287.4M30.4 266.13H180.7M30.4 244.87H180.7M30.4 223.6H180.7" stroke="#d8d8d8" stroke-width="0.55" fill="none"/>
<path d="M30.4 287.4v-2M30.4 218.6v2M45.43 287.4v-2M45.43 218.6v2M60.46 287.4v-2M60.46 218.6v2M75.49 287.4v-2M75.49 218.6v2M90.52 287.4v-2M90.52 218.6v2M105.55 287.4v-2M105.55 218.6v2M120.58 287.4v-2M120.58 218.6v2M135.61 287.4v-2M135.61 218.6v2M150.64 287.4v-2M150.64 218.6v2M165.67 287.4v-2M165.67 218.6v2M180.7 287.4v-2M180.7 218.6v2M30.4 287.4h2M180.7 287.4h-2M30.4 266.13h2M180.7 266.13h-2M30.4 244.87h2M180.7 244.87h-2M30.4 223.6h2M180.7 223.6h-2" stroke="#303030" stroke-width="0.9" fill="none"/>
<rect x="30.4" y="218.6" width="150.3" height="68.8" fill="none" stroke="#303030" stroke-width="0.9"/>
<polyline points="37.91,221.47 45.43,232.11 52.94,233.17 60.46,246.99 67.97,252.31 75.49,257.63 83,259.75 90.52,261.88 98.03,261.88 105.55,262.94 113.06,266.35 120.58,264.01 128.09,266.13 135.61,267.2 143.12,271.45 150.64,263.69 158.16,262.84 165.67,268.26 173.19,269.32 180.7,268.26" fill="none" stroke="#000000" stroke-width="1.1"/>
<g fill="#000000"><circle cx="37.91" cy="221.47" r="2.95"/><circle cx="45.43" cy="232.11" r="2.95"/><circle cx="52.94" cy="233.17" r="2.95"/><circle cx="60.46" cy="246.99" r="2.95"/><circle cx="67.97" cy="252.31" r="2.95"/><circle cx="75.49" cy="257.63" r="2.95"/><circle cx="83" cy="259.75" r="2.95"/><circle cx="90.52" cy="261.88" r="2.95"/><circle cx="98.03" cy="261.88" r="2.95"/><circle cx="105.55" cy="262.94" r="2.95"/><circle cx="113.06" cy="266.35" r="2.95"/><circle cx="120.58" cy="264.01" r="2.95"/><circle cx="128.09" cy="266.13" r="2.95"/><circle cx="135.61" cy="267.2" r="2.95"/><circle cx="143.12" cy="271.45" r="2.95"/><circle cx="150.64" cy="263.69" r="2.95"/><circle cx="158.16" cy="262.84" r="2.95"/><circle cx="165.67" cy="268.26" r="2.95"/><circle cx="173.19" cy="269.32" r="2.95"/><circle cx="180.7" cy="268.26" r="2.95"/></g>
<polyline points="37.91,220.41 45.43,231.04 52.94,235.3 60.46,236.89 67.97,259.54 75.49,255.5 83,249.86 90.52,256.88 98.03,255.5 105.55,258.69 113.06,262.94 120.58,254.44 128.09,262.09 135.61,261.03 143.12,265.07 150.64,268.26 158.16,267.2 165.67,264.96 173.19,263.69 180.7,264.43" fill="none" stroke="#ff0000" stroke-width="1.1"/>
<g fill="#ff0000"><circle cx="37.91" cy="220.41" r="2.95"/><circle cx="45.43" cy="231.04" r="2.95"/><circle cx="52.94" cy="235.3" r="2.95"/><circle cx="60.46" cy="236.89" r="2.95"/><circle cx="67.97" cy="259.54" r="2.95"/><circle cx="75.49" cy="255.5" r="2.95"/><circle cx="83" cy="249.86" r="2.95"/><circle cx="90.52" cy="256.88" r="2.95"/><circle cx="98.03" cy="255.5" r="2.95"/><circle cx="105.55" cy="258.69" r="2.95"/><circle cx="113.06" cy="262.94" r="2.95"/><circle cx="120.58" cy="254.44" r="2.95"/><circle cx="128.09" cy="262.09" r="2.95"/><circle cx="135.61" cy="261.03" r="2.95"/><circle cx="143.12" cy="265.07" r="2.95"/><circle cx="150.64" cy="268.26" r="2.95"/><circle cx="158.16" cy="267.2" r="2.95"/><circle cx="165.67" cy="264.96" r="2.95"/><circle cx="173.19" cy="263.69" r="2.95"/><circle cx="180.7" cy="264.43" r="2.95"/></g>
<polyline points="37.91,220.41 45.43,232.11 52.94,232.11 60.46,247.52 67.97,256.24 75.49,255.5 83,262.31 90.52,266.13 98.03,265.28 105.55,264.75 113.06,264.54 120.58,269 128.09,266.13 135.61,267.73 143.12,267.2 150.64,268.26 158.16,265.28 165.67,269.32 173.19,271.98 180.7,271.34" fill="none" stroke="#00ff00" stroke-width="1.1"/>
<g fill="#00ff00"><circle cx="37.91" cy="220.41" r="2.95"/><circle cx="45.43" cy="232.11" r="2.95"/><circle cx="52.94" cy="232.11" r="2.95"/><circle cx="60.46" cy="247.52" r="2.95"/><circle cx="67.97" cy="256.24" r="2.95"/><circle cx="75.49" cy="255.5" r="2.95"/><circle cx="83" cy="262.31" r="2.95"/><circle cx="90.52" cy="266.13" r="2.95"/><circle cx="98.03" cy="265.28" r="2.95"/><circle cx="105.55" cy="264.75" r="2.95"/><circle cx="113.06" cy="264.54" r="2.95"/><circle cx="120.58" cy="269" r="2.95"/><circle cx="128.09" cy="266.13" r="2.95"/><circle cx="135.61" cy="267.73" r="2.95"/><circle cx="143.12" cy="267.2" r="2.95"/><circle cx="150.64" cy="268.26" r="2.95"/><circle cx="158.16" cy="265.28" r="2.95"/><circle cx="165.67" cy="269.32" r="2.95"/><circle cx="173.19" cy="271.98" r="2.95"/><circle cx="180.7" cy="271.34" r="2.95"/></g>
<polyline points="37.91,223.28 45.43,232.85 52.94,228.07 60.46,242.74 67.97,245.72 75.49,254.44 83,260.39 90.52,261.35 98.03,260.28 105.55,261.88 113.06,263.47 120.58,260.39 128.09,268.26 135.61,267.2 143.12,266.13 150.64,265.28 158.16,271.66 165.67,268.26 173.19,268.79 180.7,266.56" fill="none" stroke="#0000ff" stroke-width="1.1"/>
<g fill="#0000ff"><circle cx="37.91" cy="223.28" r="2.95"/><circle cx="45.43" cy="232.85" r="2.95"/><circle cx="52.94" cy="228.07" r="2.95"/><circle cx="60.46" cy="242.74" r="2.95"/><circle cx="67.97" cy="245.72" r="2.95"/><circle cx="75.49" cy="254.44" r="2.95"/><circle cx="83" cy="260.39" r="2.95"/><circle cx="90.52" cy="261.35" r="2.95"/><circle cx="98.03" cy="260.28" r="2.95"/><circle cx="105.55" cy="261.88" r="2.95"/><circle cx="113.06" cy="263.47" r="2.95"/><circle cx="120.58" cy="260.39" r="2.95"/><circle cx="128.09" cy="268.26" r="2.95"/><circle cx="135.61" cy="267.2" r="2.95"/><circle cx="143.12" cy="266.13" r="2.95"/><circle cx="150.64" cy="265.28" r="2.95"/><circle cx="158.16" cy="271.66" r="2.95"/><circle cx="165.67" cy="268.26" r="2.95"/><circle cx="173.19" cy="268.79" r="2.95"/><circle cx="180.7" cy="266.56" r="2.95"/></g>
<polyline points="37.91,218.39 45.43,230.72 52.94,231.26 60.46,256.03 67.97,249.12 75.49,252.63 83,257.41 90.52,259.01 98.03,255.29 105.55,256.88 113.06,261.88 120.58,263.37 128.09,264.43 135.61,267.94 143.12,263.69 150.64,270.07 158.16,269.22 165.67,270.81 173.19,266.88 180.7,275.17" fill="none" stroke="#a23f06" stroke-width="1.1"/>
<g fill="#a23f06"><circle cx="37.91" cy="218.39" r="2.95"/><circle cx="45.43" cy="230.72" r="2.95"/><circle cx="52.94" cy="231.26" r="2.95"/><circle cx="60.46" cy="256.03" r="2.95"/><circle cx="67.97" cy="249.12" r="2.95"/><circle cx="75.49" cy="252.63" r="2.95"/><circle cx="83" cy="257.41" r="2.95"/><circle cx="90.52" cy="259.01" r="2.95"/><circle cx="98.03" cy="255.29" r="2.95"/><circle cx="105.55" cy="256.88" r="2.95"/><circle cx="113.06" cy="261.88" r="2.95"/><circle cx="120.58" cy="263.37" r="2.95"/><circle cx="128.09" cy="264.43" r="2.95"/><circle cx="135.61" cy="267.94" r="2.95"/><circle cx="143.12" cy="263.69" r="2.95"/><circle cx="150.64" cy="270.07" r="2.95"/><circle cx="158.16" cy="269.22" r="2.95"/><circle cx="165.67" cy="270.81" r="2.95"/><circle cx="173.19" cy="266.88" r="2.95"/><circle cx="180.7" cy="275.17" r="2.95"/></g>
<text x="30.4" y="296.4" font-size="7.2" font-weight="bold" text-anchor="middle">0</text>
<text x="45.43" y="296.4" font-size="7.2" font-weight="bold" text-anchor="middle">2</text>
<text x="60.46" y="296.4" font-size="7.2" font-weight="bold" text-anchor="middle">4</text>
<text x="75.49" y="296.4" font-size="7.2" font-weight="bold" text-anchor="middle">6</text>
<text x="90.52" y="296.4" font-size="7.2" font-weight="bold" text-anchor="middle">8</text>
<text x="105.55" y="296.4" font-size="7.2" font-weight="bold" text-anchor="middle">10</text>
<text x="120.58" y="296.4" font-size="7.2" font-weight="bold" text-anchor="middle">12</text>
<text x="135.61" y="296.4" font-size="7.2" font-weight="bold" text-anchor="middle">14</text>
<text x="150.64" y="296.4" font-size="7.2" font-weight="bold" text-anchor="middle">16</text>
<text x="165.67" y="296.4" font-size="7.2" font-weight="bold" text-anchor="middle">18</text>
<text x="180.7" y="296.4" font-size="7.2" font-weight="bold" text-anchor="middle">20</text>
<text x="27.7" y="289.7" font-size="7.2" font-weight="bold" text-anchor="end">0</text>
<text x="27.7" y="268.43" font-size="7.2" font-weight="bold" text-anchor="end">0.2</text>
<text x="27.7" y="247.17" font-size="7.2" font-weight="bold" text-anchor="end">0.4</text>
<text x="27.7" y="225.9" font-size="7.2" font-weight="bold" text-anchor="end">0.6</text>
<text x="104.5" y="306.2" font-size="7.6" font-weight="bold" text-anchor="middle">s</text>
<text transform="translate(11.4 263.85) rotate(-90)" font-size="7.6" font-weight="bold">MPE<tspan font-size="6.1" dx="0" dy="4.6">G</tspan></text>
<text x="100.2" y="214.5" font-size="8.4">(g)</text>
<text x="114.4" y="214.5" font-size="8.4">RF</text>
</g>
<g>
<path d="M225.13 218.6V287.2M240.26 218.6V287.2M255.39 218.6V287.2M270.52 218.6V287.2M285.65 218.6V287.2M300.78 218.6V287.2M315.91 218.6V287.2M331.04 218.6V287.2M346.17 218.6V287.2M210 268.07H361.3M210 248.93H361.3M210 229.8H361.3" stroke="#d8d8d8" stroke-width="0.55" fill="none"/>
<path d="M210 287.2v-2M210 218.6v2M225.13 287.2v-2M225.13 218.6v2M240.26 287.2v-2M240.26 218.6v2M255.39 287.2v-2M255.39 218.6v2M270.52 287.2v-2M270.52 218.6v2M285.65 287.2v-2M285.65 218.6v2M300.78 287.2v-2M300.78 218.6v2M315.91 287.2v-2M315.91 218.6v2M331.04 287.2v-2M331.04 218.6v2M346.17 287.2v-2M346.17 218.6v2M361.3 287.2v-2M361.3 218.6v2M210 287.2h2M361.3 287.2h-2M210 268.07h2M361.3 268.07h-2M210 248.93h2M361.3 248.93h-2M210 229.8h2M361.3 229.8h-2" stroke="#303030" stroke-width="0.9" fill="none"/>
<rect x="210" y="218.6" width="151.3" height="68.6" fill="none" stroke="#303030" stroke-width="0.9"/>
<polyline points="217.56,219.28 225.13,220.71 232.69,243.19 240.26,247.02 247.82,249.89 255.39,251.42 262.95,255.63 270.52,257.54 278.09,264.53 285.65,259.46 293.22,258.5 300.78,260.41 308.35,260.41 315.91,261.37 323.48,268.07 331.04,268.07 338.61,268.07 346.17,267.11 353.74,269.02 361.3,263.57" fill="none" stroke="#000000" stroke-width="1.1"/>
<g fill="#000000"><circle cx="217.56" cy="219.28" r="2.95"/><circle cx="225.13" cy="220.71" r="2.95"/><circle cx="232.69" cy="243.19" r="2.95"/><circle cx="240.26" cy="247.02" r="2.95"/><circle cx="247.82" cy="249.89" r="2.95"/><circle cx="255.39" cy="251.42" r="2.95"/><circle cx="262.95" cy="255.63" r="2.95"/><circle cx="270.52" cy="257.54" r="2.95"/><circle cx="278.09" cy="264.53" r="2.95"/><circle cx="285.65" cy="259.46" r="2.95"/><circle cx="293.22" cy="258.5" r="2.95"/><circle cx="300.78" cy="260.41" r="2.95"/><circle cx="308.35" cy="260.41" r="2.95"/><circle cx="315.91" cy="261.37" r="2.95"/><circle cx="323.48" cy="268.07" r="2.95"/><circle cx="331.04" cy="268.07" r="2.95"/><circle cx="338.61" cy="268.07" r="2.95"/><circle cx="346.17" cy="267.11" r="2.95"/><circle cx="353.74" cy="269.02" r="2.95"/><circle cx="361.3" cy="263.57" r="2.95"/></g>
<polyline points="217.56,219.28 225.13,238.79 232.69,244.15 240.26,247.98 247.82,251.8 255.39,243.38 262.95,255.63 270.52,256.59 278.09,257.35 285.65,258.5 293.22,255.63 300.78,256.49 308.35,259.46 315.91,262.9 323.48,260.41 331.04,261.37 338.61,265.2 346.17,267.11 353.74,269.98 361.3,273.71" fill="none" stroke="#ff0000" stroke-width="1.1"/>
<g fill="#ff0000"><circle cx="217.56" cy="219.28" r="2.95"/><circle cx="225.13" cy="238.79" r="2.95"/><circle cx="232.69" cy="244.15" r="2.95"/><circle cx="240.26" cy="247.98" r="2.95"/><circle cx="247.82" cy="251.8" r="2.95"/><circle cx="255.39" cy="243.38" r="2.95"/><circle cx="262.95" cy="255.63" r="2.95"/><circle cx="270.52" cy="256.59" r="2.95"/><circle cx="278.09" cy="257.35" r="2.95"/><circle cx="285.65" cy="258.5" r="2.95"/><circle cx="293.22" cy="255.63" r="2.95"/><circle cx="300.78" cy="256.49" r="2.95"/><circle cx="308.35" cy="259.46" r="2.95"/><circle cx="315.91" cy="262.9" r="2.95"/><circle cx="323.48" cy="260.41" r="2.95"/><circle cx="331.04" cy="261.37" r="2.95"/><circle cx="338.61" cy="265.2" r="2.95"/><circle cx="346.17" cy="267.11" r="2.95"/><circle cx="353.74" cy="269.98" r="2.95"/><circle cx="361.3" cy="273.71" r="2.95"/></g>
<polyline points="217.56,217.17 225.13,234.58 232.69,241.28 240.26,247.02 247.82,250.37 255.39,259.65 262.95,256.49 270.52,260.22 278.09,261.37 285.65,260.7 293.22,260.32 300.78,259.46 308.35,256.68 315.91,259.27 323.48,259.46 331.04,256.87 338.61,264.24 346.17,265.68 353.74,267.11 361.3,265.68" fill="none" stroke="#00ff00" stroke-width="1.1"/>
<g fill="#00ff00"><circle cx="217.56" cy="217.17" r="2.95"/><circle cx="225.13" cy="234.58" r="2.95"/><circle cx="232.69" cy="241.28" r="2.95"/><circle cx="240.26" cy="247.02" r="2.95"/><circle cx="247.82" cy="250.37" r="2.95"/><circle cx="255.39" cy="259.65" r="2.95"/><circle cx="262.95" cy="256.49" r="2.95"/><circle cx="270.52" cy="260.22" r="2.95"/><circle cx="278.09" cy="261.37" r="2.95"/><circle cx="285.65" cy="260.7" r="2.95"/><circle cx="293.22" cy="260.32" r="2.95"/><circle cx="300.78" cy="259.46" r="2.95"/><circle cx="308.35" cy="256.68" r="2.95"/><circle cx="315.91" cy="259.27" r="2.95"/><circle cx="323.48" cy="259.46" r="2.95"/><circle cx="331.04" cy="256.87" r="2.95"/><circle cx="338.61" cy="264.24" r="2.95"/><circle cx="346.17" cy="265.68" r="2.95"/><circle cx="353.74" cy="267.11" r="2.95"/><circle cx="361.3" cy="265.68" r="2.95"/></g>
<polyline points="217.56,220.23 225.13,232.38 232.69,246.06 240.26,249.12 247.82,255.63 255.39,245.3 262.95,251.23 270.52,254.67 278.09,252.28 285.65,255.63 293.22,256.01 300.78,261.85 308.35,261.37 315.91,261.37 323.48,251.23 331.04,260.41 338.61,260.8 346.17,262.42 353.74,268.07 361.3,266.63" fill="none" stroke="#0000ff" stroke-width="1.1"/>
<g fill="#0000ff"><circle cx="217.56" cy="220.23" r="2.95"/><circle cx="225.13" cy="232.38" r="2.95"/><circle cx="232.69" cy="246.06" r="2.95"/><circle cx="240.26" cy="249.12" r="2.95"/><circle cx="247.82" cy="255.63" r="2.95"/><circle cx="255.39" cy="245.3" r="2.95"/><circle cx="262.95" cy="251.23" r="2.95"/><circle cx="270.52" cy="254.67" r="2.95"/><circle cx="278.09" cy="252.28" r="2.95"/><circle cx="285.65" cy="255.63" r="2.95"/><circle cx="293.22" cy="256.01" r="2.95"/><circle cx="300.78" cy="261.85" r="2.95"/><circle cx="308.35" cy="261.37" r="2.95"/><circle cx="315.91" cy="261.37" r="2.95"/><circle cx="323.48" cy="251.23" r="2.95"/><circle cx="331.04" cy="260.41" r="2.95"/><circle cx="338.61" cy="260.8" r="2.95"/><circle cx="346.17" cy="262.42" r="2.95"/><circle cx="353.74" cy="268.07" r="2.95"/><circle cx="361.3" cy="266.63" r="2.95"/></g>
<polyline points="217.56,218.51 225.13,237.26 232.69,243.67 240.26,245.87 247.82,248.45 255.39,248.65 262.95,262.81 270.52,256.49 278.09,260.7 285.65,258.12 293.22,250.75 300.78,258.6 308.35,259.27 315.91,261.37 323.48,260.32 331.04,261.66 338.61,264.81 346.17,267.78 353.74,274.19 361.3,268.07" fill="none" stroke="#a23f06" stroke-width="1.1"/>
<g fill="#a23f06"><circle cx="217.56" cy="218.51" r="2.95"/><circle cx="225.13" cy="237.26" r="2.95"/><circle cx="232.69" cy="243.67" r="2.95"/><circle cx="240.26" cy="245.87" r="2.95"/><circle cx="247.82" cy="248.45" r="2.95"/><circle cx="255.39" cy="248.65" r="2.95"/><circle cx="262.95" cy="262.81" r="2.95"/><circle cx="270.52" cy="256.49" r="2.95"/><circle cx="278.09" cy="260.7" r="2.95"/><circle cx="285.65" cy="258.12" r="2.95"/><circle cx="293.22" cy="250.75" r="2.95"/><circle cx="300.78" cy="258.6" r="2.95"/><circle cx="308.35" cy="259.27" r="2.95"/><circle cx="315.91" cy="261.37" r="2.95"/><circle cx="323.48" cy="260.32" r="2.95"/><circle cx="331.04" cy="261.66" r="2.95"/><circle cx="338.61" cy="264.81" r="2.95"/><circle cx="346.17" cy="267.78" r="2.95"/><circle cx="353.74" cy="274.19" r="2.95"/><circle cx="361.3" cy="268.07" r="2.95"/></g>
<text x="210" y="296.2" font-size="7.2" font-weight="bold" text-anchor="middle">0</text>
<text x="225.13" y="296.2" font-size="7.2" font-weight="bold" text-anchor="middle">2</text>
<text x="240.26" y="296.2" font-size="7.2" font-weight="bold" text-anchor="middle">4</text>
<text x="255.39" y="296.2" font-size="7.2" font-weight="bold" text-anchor="middle">6</text>
<text x="270.52" y="296.2" font-size="7.2" font-weight="bold" text-anchor="middle">8</text>
<text x="285.65" y="296.2" font-size="7.2" font-weight="bold" text-anchor="middle">10</text>
<text x="300.78" y="296.2" font-size="7.2" font-weight="bold" text-anchor="middle">12</text>
<text x="315.91" y="296.2" font-size="7.2" font-weight="bold" text-anchor="middle">14</text>
<text x="331.04" y="296.2" font-size="7.2" font-weight="bold" text-anchor="middle">16</text>
<text x="346.17" y="296.2" font-size="7.2" font-weight="bold" text-anchor="middle">18</text>
<text x="361.3" y="296.2" font-size="7.2" font-weight="bold" text-anchor="middle">20</text>
<text x="207.3" y="289.5" font-size="7.2" font-weight="bold" text-anchor="end">0</text>
<text x="207.3" y="270.37" font-size="7.2" font-weight="bold" text-anchor="end">0.2</text>
<text x="207.3" y="251.23" font-size="7.2" font-weight="bold" text-anchor="end">0.4</text>
<text x="207.3" y="232.1" font-size="7.2" font-weight="bold" text-anchor="end">0.6</text>
<text x="285.1" y="306.2" font-size="7.6" font-weight="bold" text-anchor="middle">s</text>
<text transform="translate(191 263.75) rotate(-90)" font-size="7.6" font-weight="bold">MPE<tspan font-size="6.1" dx="0" dy="4.6">G</tspan></text>
<text x="280" y="214.5" font-size="8.4">(h)</text>
<text x="294" y="214.5" font-size="8.4">IF</text>
</g>
<g>
<path d="M407.47 220V289.4M422.54 220V289.4M437.61 220V289.4M452.68 220V289.4M467.75 220V289.4M482.82 220V289.4M497.89 220V289.4M512.96 220V289.4M528.03 220V289.4M392.4 266.27H543.1M392.4 243.13H543.1" stroke="#d8d8d8" stroke-width="0.55" fill="none"/>
<path d="M392.4 289.4v-2M392.4 220v2M407.47 289.4v-2M407.47 220v2M422.54 289.4v-2M422.54 220v2M437.61 289.4v-2M437.61 220v2M452.68 289.4v-2M452.68 220v2M467.75 289.4v-2M467.75 220v2M482.82 289.4v-2M482.82 220v2M497.89 289.4v-2M497.89 220v2M512.96 289.4v-2M512.96 220v2M528.03 289.4v-2M528.03 220v2M543.1 289.4v-2M543.1 220v2M392.4 289.4h2M543.1 289.4h-2M392.4 266.27h2M543.1 266.27h-2M392.4 243.13h2M543.1 243.13h-2M392.4 220h2M543.1 220h-2" stroke="#303030" stroke-width="0.9" fill="none"/>
<rect x="392.4" y="220" width="150.7" height="69.4" fill="none" stroke="#303030" stroke-width="0.9"/>
<polyline points="399.94,228.56 407.47,240.82 415,245.45 422.54,259.33 430.07,257.01 437.61,257.36 445.14,255.28 452.68,261.64 460.22,262.45 467.75,263.95 475.28,265.11 482.82,269.74 490.36,267.42 497.89,263.61 505.43,267.42 512.96,270.89 520.5,262.8 528.03,269.74 535.57,270.89 543.1,274.36" fill="none" stroke="#000000" stroke-width="1.1"/>
<g fill="#000000"><circle cx="399.94" cy="228.56" r="2.95"/><circle cx="407.47" cy="240.82" r="2.95"/><circle cx="415" cy="245.45" r="2.95"/><circle cx="422.54" cy="259.33" r="2.95"/><circle cx="430.07" cy="257.01" r="2.95"/><circle cx="437.61" cy="257.36" r="2.95"/><circle cx="445.14" cy="255.28" r="2.95"/><circle cx="452.68" cy="261.64" r="2.95"/><circle cx="460.22" cy="262.45" r="2.95"/><circle cx="467.75" cy="263.95" r="2.95"/><circle cx="475.28" cy="265.11" r="2.95"/><circle cx="482.82" cy="269.74" r="2.95"/><circle cx="490.36" cy="267.42" r="2.95"/><circle cx="497.89" cy="263.61" r="2.95"/><circle cx="505.43" cy="267.42" r="2.95"/><circle cx="512.96" cy="270.89" r="2.95"/><circle cx="520.5" cy="262.8" r="2.95"/><circle cx="528.03" cy="269.74" r="2.95"/><circle cx="535.57" cy="270.89" r="2.95"/><circle cx="543.1" cy="274.36" r="2.95"/></g>
<polyline points="399.94,231.57 407.47,238.16 415,248.8 422.54,260.02 430.07,258.17 437.61,264.88 445.14,266.27 452.68,261.64 460.22,257.01 467.75,258.98 475.28,261.29 482.82,272.05 490.36,264.42 497.89,265.57 505.43,259.21 512.96,271.47 520.5,276.45 528.03,264.88 535.57,278.06 543.1,280.96" fill="none" stroke="#ff0000" stroke-width="1.1"/>
<g fill="#ff0000"><circle cx="399.94" cy="231.57" r="2.95"/><circle cx="407.47" cy="238.16" r="2.95"/><circle cx="415" cy="248.8" r="2.95"/><circle cx="422.54" cy="260.02" r="2.95"/><circle cx="430.07" cy="258.17" r="2.95"/><circle cx="437.61" cy="264.88" r="2.95"/><circle cx="445.14" cy="266.27" r="2.95"/><circle cx="452.68" cy="261.64" r="2.95"/><circle cx="460.22" cy="257.01" r="2.95"/><circle cx="467.75" cy="258.98" r="2.95"/><circle cx="475.28" cy="261.29" r="2.95"/><circle cx="482.82" cy="272.05" r="2.95"/><circle cx="490.36" cy="264.42" r="2.95"/><circle cx="497.89" cy="265.57" r="2.95"/><circle cx="505.43" cy="259.21" r="2.95"/><circle cx="512.96" cy="271.47" r="2.95"/><circle cx="520.5" cy="276.45" r="2.95"/><circle cx="528.03" cy="264.88" r="2.95"/><circle cx="535.57" cy="278.06" r="2.95"/><circle cx="543.1" cy="280.96" r="2.95"/></g>
<polyline points="399.94,230.06 407.47,241.98 415,243.25 422.54,266.84 430.07,261.64 437.61,266.27 445.14,263.26 452.68,262.8 460.22,268.93 467.75,262.8 475.28,263.38 482.82,267.65 490.36,267.42 497.89,268.58 505.43,267.65 512.96,277.25 520.5,275.52 528.03,267.42 535.57,268.81 543.1,273.55" fill="none" stroke="#00ff00" stroke-width="1.1"/>
<g fill="#00ff00"><circle cx="399.94" cy="230.06" r="2.95"/><circle cx="407.47" cy="241.98" r="2.95"/><circle cx="415" cy="243.25" r="2.95"/><circle cx="422.54" cy="266.84" r="2.95"/><circle cx="430.07" cy="261.64" r="2.95"/><circle cx="437.61" cy="266.27" r="2.95"/><circle cx="445.14" cy="263.26" r="2.95"/><circle cx="452.68" cy="262.8" r="2.95"/><circle cx="460.22" cy="268.93" r="2.95"/><circle cx="467.75" cy="262.8" r="2.95"/><circle cx="475.28" cy="263.38" r="2.95"/><circle cx="482.82" cy="267.65" r="2.95"/><circle cx="490.36" cy="267.42" r="2.95"/><circle cx="497.89" cy="268.58" r="2.95"/><circle cx="505.43" cy="267.65" r="2.95"/><circle cx="512.96" cy="277.25" r="2.95"/><circle cx="520.5" cy="275.52" r="2.95"/><circle cx="528.03" cy="267.42" r="2.95"/><circle cx="535.57" cy="268.81" r="2.95"/><circle cx="543.1" cy="273.55" r="2.95"/></g>
<polyline points="399.94,232.84 407.47,242.9 415,258.4 422.54,253.66 430.07,260.02 437.61,269.74 445.14,270.43 452.68,264.88 460.22,273.44 467.75,270.2 475.28,265.11 482.82,271.93 490.36,267.42 497.89,278.87 505.43,270.89 512.96,264.88 520.5,265.57 528.03,276.1 535.57,276.45 543.1,279.34" fill="none" stroke="#0000ff" stroke-width="1.1"/>
<g fill="#0000ff"><circle cx="399.94" cy="232.84" r="2.95"/><circle cx="407.47" cy="242.9" r="2.95"/><circle cx="415" cy="258.4" r="2.95"/><circle cx="422.54" cy="253.66" r="2.95"/><circle cx="430.07" cy="260.02" r="2.95"/><circle cx="437.61" cy="269.74" r="2.95"/><circle cx="445.14" cy="270.43" r="2.95"/><circle cx="452.68" cy="264.88" r="2.95"/><circle cx="460.22" cy="273.44" r="2.95"/><circle cx="467.75" cy="270.2" r="2.95"/><circle cx="475.28" cy="265.11" r="2.95"/><circle cx="482.82" cy="271.93" r="2.95"/><circle cx="490.36" cy="267.42" r="2.95"/><circle cx="497.89" cy="278.87" r="2.95"/><circle cx="505.43" cy="270.89" r="2.95"/><circle cx="512.96" cy="264.88" r="2.95"/><circle cx="520.5" cy="265.57" r="2.95"/><circle cx="528.03" cy="276.1" r="2.95"/><circle cx="535.57" cy="276.45" r="2.95"/><circle cx="543.1" cy="279.34" r="2.95"/></g>
<polyline points="399.94,236.54 407.47,247.99 415,245.1 422.54,266.04 430.07,254.12 437.61,269.62 445.14,266.5 452.68,259.21 460.22,264.88 467.75,263.84 475.28,266.27 482.82,276.79 490.36,268.12 497.89,269.74 505.43,275.64 512.96,271.93 520.5,276.79 528.03,270.08 535.57,271.36 543.1,270.08" fill="none" stroke="#a23f06" stroke-width="1.1"/>
<g fill="#a23f06"><circle cx="399.94" cy="236.54" r="2.95"/><circle cx="407.47" cy="247.99" r="2.95"/><circle cx="415" cy="245.1" r="2.95"/><circle cx="422.54" cy="266.04" r="2.95"/><circle cx="430.07" cy="254.12" r="2.95"/><circle cx="437.61" cy="269.62" r="2.95"/><circle cx="445.14" cy="266.5" r="2.95"/><circle cx="452.68" cy="259.21" r="2.95"/><circle cx="460.22" cy="264.88" r="2.95"/><circle cx="467.75" cy="263.84" r="2.95"/><circle cx="475.28" cy="266.27" r="2.95"/><circle cx="482.82" cy="276.79" r="2.95"/><circle cx="490.36" cy="268.12" r="2.95"/><circle cx="497.89" cy="269.74" r="2.95"/><circle cx="505.43" cy="275.64" r="2.95"/><circle cx="512.96" cy="271.93" r="2.95"/><circle cx="520.5" cy="276.79" r="2.95"/><circle cx="528.03" cy="270.08" r="2.95"/><circle cx="535.57" cy="271.36" r="2.95"/><circle cx="543.1" cy="270.08" r="2.95"/></g>
<text x="392.4" y="298.4" font-size="7.2" font-weight="bold" text-anchor="middle">0</text>
<text x="407.47" y="298.4" font-size="7.2" font-weight="bold" text-anchor="middle">2</text>
<text x="422.54" y="298.4" font-size="7.2" font-weight="bold" text-anchor="middle">4</text>
<text x="437.61" y="298.4" font-size="7.2" font-weight="bold" text-anchor="middle">6</text>
<text x="452.68" y="298.4" font-size="7.2" font-weight="bold" text-anchor="middle">8</text>
<text x="467.75" y="298.4" font-size="7.2" font-weight="bold" text-anchor="middle">10</text>
<text x="482.82" y="298.4" font-size="7.2" font-weight="bold" text-anchor="middle">12</text>
<text x="497.89" y="298.4" font-size="7.2" font-weight="bold" text-anchor="middle">14</text>
<text x="512.96" y="298.4" font-size="7.2" font-weight="bold" text-anchor="middle">16</text>
<text x="528.03" y="298.4" font-size="7.2" font-weight="bold" text-anchor="middle">18</text>
<text x="543.1" y="298.4" font-size="7.2" font-weight="bold" text-anchor="middle">20</text>
<text x="389.7" y="291.7" font-size="7.2" font-weight="bold" text-anchor="end">0.2</text>
<text x="389.7" y="268.57" font-size="7.2" font-weight="bold" text-anchor="end">0.4</text>
<text x="389.7" y="245.43" font-size="7.2" font-weight="bold" text-anchor="end">0.6</text>
<text x="389.7" y="222.3" font-size="7.2" font-weight="bold" text-anchor="end">0.8</text>
<text x="467.3" y="308.5" font-size="7.6" font-weight="bold" text-anchor="middle">s</text>
<text transform="translate(373.4 265.55) rotate(-90)" font-size="7.6" font-weight="bold">MPE<tspan font-size="6.1" dx="0" dy="4.6">G</tspan></text>
<text x="463.1" y="217" font-size="8.4">(i)</text>
<text x="474.9" y="217" font-size="8.4">OF</text>
</g>
</svg></body></html>
